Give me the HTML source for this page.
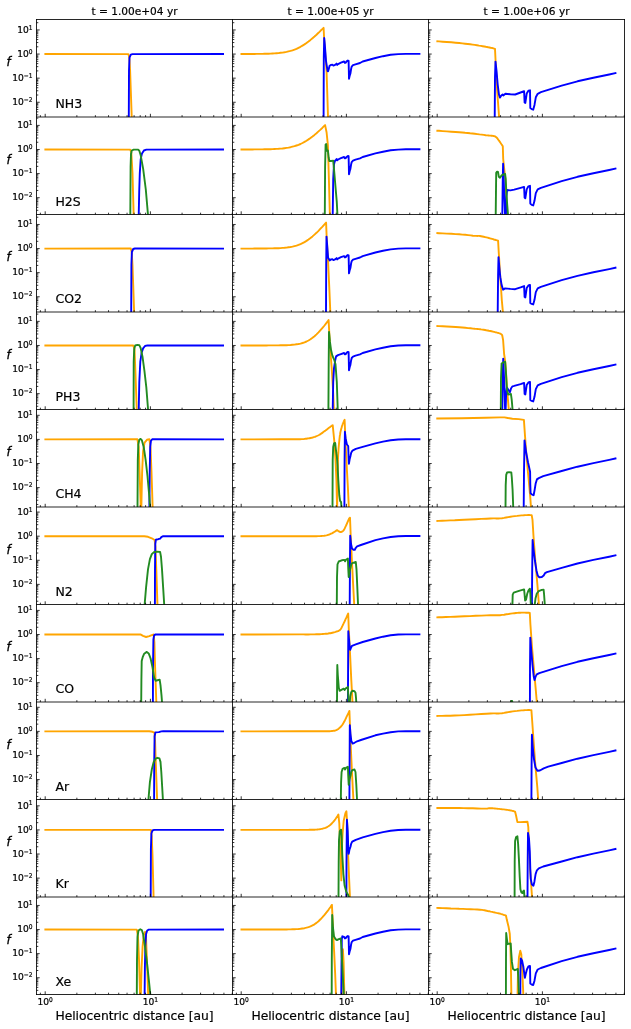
<!DOCTYPE html>
<html><head><meta charset="utf-8"><title>Enrichment profiles</title>
<style>html,body{margin:0;padding:0;background:#fff}svg{display:block}</style></head>
<body>
<svg width="631" height="1029" viewBox="0 0 631 1029" style="display:block">
<rect width="631" height="1029" fill="#fff"/>
<defs>
<clipPath id="c0_0"><rect x="36.50" y="19.50" width="196.00" height="97.50"/></clipPath>
<clipPath id="c0_1"><rect x="232.50" y="19.50" width="196.00" height="97.50"/></clipPath>
<clipPath id="c0_2"><rect x="428.50" y="19.50" width="196.00" height="97.50"/></clipPath>
<clipPath id="c1_0"><rect x="36.50" y="117.00" width="196.00" height="97.50"/></clipPath>
<clipPath id="c1_1"><rect x="232.50" y="117.00" width="196.00" height="97.50"/></clipPath>
<clipPath id="c1_2"><rect x="428.50" y="117.00" width="196.00" height="97.50"/></clipPath>
<clipPath id="c2_0"><rect x="36.50" y="214.50" width="196.00" height="97.50"/></clipPath>
<clipPath id="c2_1"><rect x="232.50" y="214.50" width="196.00" height="97.50"/></clipPath>
<clipPath id="c2_2"><rect x="428.50" y="214.50" width="196.00" height="97.50"/></clipPath>
<clipPath id="c3_0"><rect x="36.50" y="312.00" width="196.00" height="97.50"/></clipPath>
<clipPath id="c3_1"><rect x="232.50" y="312.00" width="196.00" height="97.50"/></clipPath>
<clipPath id="c3_2"><rect x="428.50" y="312.00" width="196.00" height="97.50"/></clipPath>
<clipPath id="c4_0"><rect x="36.50" y="409.50" width="196.00" height="97.50"/></clipPath>
<clipPath id="c4_1"><rect x="232.50" y="409.50" width="196.00" height="97.50"/></clipPath>
<clipPath id="c4_2"><rect x="428.50" y="409.50" width="196.00" height="97.50"/></clipPath>
<clipPath id="c5_0"><rect x="36.50" y="507.00" width="196.00" height="97.50"/></clipPath>
<clipPath id="c5_1"><rect x="232.50" y="507.00" width="196.00" height="97.50"/></clipPath>
<clipPath id="c5_2"><rect x="428.50" y="507.00" width="196.00" height="97.50"/></clipPath>
<clipPath id="c6_0"><rect x="36.50" y="604.50" width="196.00" height="97.50"/></clipPath>
<clipPath id="c6_1"><rect x="232.50" y="604.50" width="196.00" height="97.50"/></clipPath>
<clipPath id="c6_2"><rect x="428.50" y="604.50" width="196.00" height="97.50"/></clipPath>
<clipPath id="c7_0"><rect x="36.50" y="702.00" width="196.00" height="97.50"/></clipPath>
<clipPath id="c7_1"><rect x="232.50" y="702.00" width="196.00" height="97.50"/></clipPath>
<clipPath id="c7_2"><rect x="428.50" y="702.00" width="196.00" height="97.50"/></clipPath>
<clipPath id="c8_0"><rect x="36.50" y="799.50" width="196.00" height="97.50"/></clipPath>
<clipPath id="c8_1"><rect x="232.50" y="799.50" width="196.00" height="97.50"/></clipPath>
<clipPath id="c8_2"><rect x="428.50" y="799.50" width="196.00" height="97.50"/></clipPath>
<clipPath id="c9_0"><rect x="36.50" y="897.00" width="196.00" height="97.50"/></clipPath>
<clipPath id="c9_1"><rect x="232.50" y="897.00" width="196.00" height="97.50"/></clipPath>
<clipPath id="c9_2"><rect x="428.50" y="897.00" width="196.00" height="97.50"/></clipPath>
</defs>
<g clip-path="url(#c0_0)" fill="none" stroke-width="1.9" stroke-linejoin="round" stroke-linecap="butt">
<path d="M44.4,54.0 L128.4,54.1 L129.3,57.7 L130.1,70.3 L130.8,90.6 L131.8,119.2" stroke="#ffa500"/>
<path d="M128.8,119.2 L129.0,70.3 L129.5,57.7 L130.8,54.6 L132.5,54.1 L224.0,54.0" stroke="#0000ff"/>
</g>
<g clip-path="url(#c0_1)" fill="none" stroke-width="1.9" stroke-linejoin="round" stroke-linecap="butt">
<path d="M240.5,54.0 L242.5,54.0 L244.5,54.0 L246.5,54.0 L248.5,54.0 L250.5,54.0 L252.5,54.0 L254.5,54.0 L256.5,53.9 L258.5,53.9 L260.5,53.9 L262.5,53.9 L264.5,53.8 L266.5,53.8 L268.5,53.7 L270.5,53.6 L272.5,53.5 L274.5,53.4 L276.5,53.2 L278.5,53.1 L280.5,52.8 L282.5,52.6 L284.5,52.3 L286.5,51.9 L288.5,51.4 L290.5,50.9 L292.5,50.3 L294.5,49.6 L296.5,48.8 L298.5,47.8 L300.5,46.8 L302.5,45.6 L304.5,44.4 L306.5,43.0 L308.5,41.5 L310.5,39.9 L312.5,38.2 L314.5,36.5 L316.5,34.7 L318.5,32.8 L320.5,30.8 L322.5,28.9 L323.6,27.8 L324.1,38.0 L326.6,72.2 L328.1,119.2" stroke="#ffa500"/>
<path d="M323.6,119.2 L323.8,57.0 L324.2,38.0 L324.8,44.4 L326.0,60.8 L327.6,71.2 L328.1,71.2 L328.9,68.4 L329.6,65.8 L331.1,64.9 L332.4,64.7 L333.4,65.5 L334.6,65.1 L335.9,64.3 L336.6,63.6 L337.2,64.9 L338.1,64.1 L340.9,62.7 L344.1,61.5 L345.0,63.0 L345.7,62.7 L346.6,61.4 L347.9,60.5 L348.6,60.8 L348.8,69.0 L349.0,78.8 L349.8,75.4 L350.4,73.5 L351.1,69.0 L351.7,66.6 L353.0,65.2 L355.5,64.3 L360.0,63.0 L362.7,61.5 L375.4,58.0 L383.0,56.2 L390.6,54.8 L398.2,54.1 L405.8,53.9 L420.4,53.9" stroke="#0000ff"/>
</g>
<g clip-path="url(#c0_2)" fill="none" stroke-width="1.9" stroke-linejoin="round" stroke-linecap="butt">
<path d="M436.4,41.2 L439.0,41.4 L442.6,41.7 L446.8,42.0 L451.3,42.3 L455.6,42.7 L459.2,43.0 L462.3,43.4 L465.1,43.7 L467.8,44.0 L470.2,44.3 L472.6,44.6 L474.8,44.9 L477.0,45.2 L479.0,45.6 L480.9,45.9 L482.6,46.2 L484.3,46.5 L485.8,46.8 L487.1,47.0 L488.3,47.3 L489.4,47.5 L490.3,47.7 L491.2,47.9 L492.0,48.0 L492.7,48.2 L493.3,48.4 L493.9,48.5 L494.3,48.7 L494.7,48.8 L495.0,48.9 L495.5,59.3 L497.1,89.7 L499.3,120.1" stroke="#ffa500"/>
<path d="M494.7,120.1 L495.0,77.0 L495.5,61.6 L496.5,70.7 L497.7,84.6 L499.0,94.8 L500.0,97.6 L501.3,95.4 L502.6,94.4 L503.3,95.5 L505.4,93.8 L510.4,94.3 L515.2,94.5 L520.6,92.5 L524.1,91.2 L524.6,102.4 L525.3,103.0 L526.7,93.5 L528.4,90.7 L530.0,90.3 L530.3,108.1 L531.7,109.1 L533.2,109.7 L534.5,104.9 L535.8,97.3 L537.7,93.8 L540.9,92.2 L561.7,85.7 L577.5,81.3 L593.4,77.8 L609.2,74.5 L616.4,72.9" stroke="#0000ff"/>
</g>
<g clip-path="url(#c1_0)" fill="none" stroke-width="1.9" stroke-linejoin="round" stroke-linecap="butt">
<path d="M44.4,149.5 L130.3,149.6 L131.3,152.8 L132.5,173.1 L133.7,216.2" stroke="#ffa500"/>
<path d="M138.7,216.2 L139.2,192.1 L139.8,173.1 L140.7,159.1 L142.0,153.4 L143.9,150.5 L146.4,149.6 L224.0,149.5" stroke="#0000ff"/>
<path d="M130.3,216.2 L130.6,166.7 L131.0,154.0 L131.8,150.5 L133.7,149.6 L138.2,149.6 L139.4,150.9 L140.7,155.3 L143.2,169.2 L145.8,189.5 L148.1,216.2" stroke="#228b22"/>
</g>
<g clip-path="url(#c1_1)" fill="none" stroke-width="1.9" stroke-linejoin="round" stroke-linecap="butt">
<path d="M240.5,149.5 L242.5,149.5 L244.5,149.5 L246.5,149.5 L248.5,149.5 L250.5,149.5 L252.5,149.5 L254.5,149.4 L256.5,149.4 L258.5,149.4 L260.5,149.4 L262.5,149.4 L264.5,149.3 L266.5,149.3 L268.5,149.2 L270.5,149.2 L272.5,149.1 L274.5,149.0 L276.5,148.9 L278.5,148.8 L280.5,148.6 L282.5,148.5 L284.5,148.2 L286.5,147.9 L288.5,147.6 L290.5,147.2 L292.5,146.7 L294.5,146.2 L296.5,145.5 L298.5,144.8 L300.5,144.0 L302.5,143.0 L304.5,141.9 L306.5,140.7 L308.5,139.4 L310.5,138.0 L312.5,136.5 L314.5,134.9 L316.5,133.2 L318.5,131.4 L320.5,129.6 L322.5,127.7 L324.5,125.7 L325.1,125.1 L326.6,132.5 L327.9,145.2 L328.9,179.4 L329.9,216.2" stroke="#ffa500"/>
<path d="M332.7,216.2 L333.2,179.4 L334.0,164.2 L334.9,161.0 L336.1,159.7 L336.6,159.1 L337.2,160.3 L338.1,159.5 L340.9,158.1 L344.1,157.0 L345.0,158.4 L345.7,158.1 L346.6,156.9 L347.9,155.9 L348.6,156.2 L348.8,164.5 L349.0,174.3 L349.8,170.8 L350.4,168.9 L351.1,164.5 L351.7,162.1 L353.0,160.7 L355.5,159.7 L360.0,158.4 L362.7,157.0 L375.4,153.4 L383.0,151.7 L390.6,150.3 L398.2,149.6 L405.8,149.3 L420.4,149.3" stroke="#0000ff"/>
<path d="M324.8,216.2 L325.1,166.7 L325.6,144.5 L326.2,144.1 L326.9,150.9 L327.9,150.5 L328.7,157.8 L329.4,161.0 L331.1,161.0 L333.2,160.6 L334.0,169.2 L335.5,187.0 L336.8,202.2 L337.5,216.2" stroke="#228b22"/>
</g>
<g clip-path="url(#c1_2)" fill="none" stroke-width="1.9" stroke-linejoin="round" stroke-linecap="butt">
<path d="M436.4,130.7 L439.0,130.8 L442.6,131.1 L446.8,131.4 L451.3,131.7 L455.6,132.0 L459.2,132.2 L462.3,132.5 L465.1,132.8 L467.7,133.0 L470.1,133.3 L472.5,133.5 L474.8,133.8 L477.2,134.1 L479.5,134.4 L481.7,134.6 L483.8,134.9 L485.7,135.2 L487.3,135.4 L488.6,135.5 L489.7,135.6 L490.6,135.6 L491.3,135.7 L492.0,135.8 L492.7,135.9 L493.4,136.0 L494.0,136.1 L494.5,136.2 L495.1,136.4 L495.6,136.7 L496.2,137.2 L496.9,137.8 L497.6,138.7 L498.3,139.7 L499.0,140.7 L499.7,141.6 L500.3,142.5 L500.8,143.2 L501.3,144.0 L501.8,144.7 L502.2,145.4 L502.6,145.9 L502.8,146.3 L503.2,159.0 L504.1,167.8 L505.4,179.2 L507.3,216.0" stroke="#ffa500"/>
<path d="M502.3,216.0 L502.7,183.1 L503.1,163.8 L503.6,176.7 L504.3,195.7 L505.1,216.0 L505.9,216.0 L506.4,197.0 L507.1,190.0 L510.4,190.4 L514.2,189.6 L520.6,187.9 L524.1,186.9 L524.6,197.6 L525.3,198.3 L526.7,189.4 L528.4,186.3 L530.0,185.8 L530.3,203.6 L531.7,204.9 L533.2,205.4 L534.5,200.8 L535.8,193.2 L537.7,189.4 L540.9,187.9 L561.7,181.1 L577.5,176.8 L593.4,173.2 L609.2,170.0 L616.4,168.4" stroke="#0000ff"/>
<path d="M495.7,216.0 L496.0,189.4 L496.2,172.9 L497.1,171.6 L498.0,171.9 L498.8,176.7 L500.0,177.7 L501.6,175.4 L503.5,174.4 L505.1,173.9 L505.7,179.2 L506.6,197.0 L508.1,216.0" stroke="#228b22"/>
</g>
<g clip-path="url(#c2_0)" fill="none" stroke-width="1.9" stroke-linejoin="round" stroke-linecap="butt">
<path d="M44.4,248.6 L130.8,248.5 L131.7,252.0 L132.5,264.7 L133.2,285.0 L134.2,314.2" stroke="#ffa500"/>
<path d="M131.2,314.2 L131.4,264.7 L131.9,252.0 L133.2,249.0 L134.9,248.5 L224.0,248.6" stroke="#0000ff"/>
</g>
<g clip-path="url(#c2_1)" fill="none" stroke-width="1.9" stroke-linejoin="round" stroke-linecap="butt">
<path d="M240.5,248.6 L242.5,248.6 L244.5,248.6 L246.5,248.6 L248.5,248.6 L250.5,248.6 L252.5,248.6 L254.5,248.5 L256.5,248.5 L258.5,248.5 L260.5,248.5 L262.5,248.5 L264.5,248.5 L266.5,248.5 L268.5,248.4 L270.5,248.4 L272.5,248.4 L274.5,248.3 L276.5,248.2 L278.5,248.2 L280.5,248.1 L282.5,247.9 L284.5,247.8 L286.5,247.6 L288.5,247.3 L290.5,247.0 L292.5,246.6 L294.5,246.1 L296.5,245.6 L298.5,244.9 L300.5,244.1 L302.5,243.2 L304.5,242.1 L306.5,240.9 L308.5,239.5 L310.5,238.0 L312.5,236.4 L314.5,234.6 L316.5,232.8 L318.5,230.8 L320.5,228.7 L322.5,226.6 L324.5,224.4 L326.1,222.6 L326.6,235.6 L328.1,262.2 L329.4,290.1 L330.4,314.2" stroke="#ffa500"/>
<path d="M326.0,314.2 L326.2,264.7 L326.5,236.6 L327.3,247.0 L328.1,257.7 L329.2,259.6 L329.6,260.4 L331.1,259.4 L332.4,259.2 L333.4,260.1 L334.6,259.6 L335.9,258.8 L336.6,258.1 L337.2,259.4 L338.1,258.6 L340.9,257.2 L344.1,256.1 L345.0,257.5 L345.7,257.2 L346.6,255.9 L347.9,255.0 L348.6,255.3 L348.8,263.5 L349.0,273.4 L349.8,269.9 L350.4,268.0 L351.1,263.5 L351.7,261.1 L353.0,259.7 L355.5,258.8 L360.0,257.5 L362.7,256.1 L375.4,252.5 L383.0,250.8 L390.6,249.4 L398.2,248.6 L405.8,248.4 L420.4,248.4" stroke="#0000ff"/>
</g>
<g clip-path="url(#c2_2)" fill="none" stroke-width="1.9" stroke-linejoin="round" stroke-linecap="butt">
<path d="M436.4,233.0 L439.0,233.2 L442.6,233.4 L446.8,233.6 L451.3,233.8 L455.6,234.1 L459.2,234.3 L462.4,234.6 L465.3,234.8 L468.1,235.1 L470.7,235.4 L472.9,235.7 L474.8,235.9 L476.3,235.9 L477.2,236.0 L477.9,235.9 L478.5,235.9 L479.1,235.9 L480.0,236.0 L481.1,236.2 L482.4,236.5 L483.7,236.8 L485.1,237.1 L486.4,237.4 L487.6,237.7 L488.8,238.0 L489.9,238.3 L491.0,238.6 L492.0,238.9 L493.0,239.2 L493.9,239.5 L494.8,239.7 L495.7,240.0 L496.4,240.2 L497.1,240.4 L497.7,240.6 L498.1,240.7 L498.8,253.2 L500.3,277.2 L501.8,300.1 L503.1,314.0" stroke="#ffa500"/>
<path d="M497.7,314.0 L498.1,274.7 L498.5,257.2 L499.3,267.1 L500.3,277.2 L501.6,284.9 L503.1,289.7 L505.1,288.4 L510.4,288.9 L515.2,289.2 L520.6,287.4 L524.1,286.1 L524.6,296.9 L525.3,297.5 L526.7,288.0 L528.4,285.4 L530.0,284.9 L530.3,302.9 L531.7,303.9 L533.2,304.4 L534.5,299.8 L535.8,292.2 L537.7,288.4 L540.9,286.9 L561.7,280.2 L577.5,275.9 L593.4,272.3 L609.2,269.1 L616.4,267.5" stroke="#0000ff"/>
</g>
<g clip-path="url(#c3_0)" fill="none" stroke-width="1.9" stroke-linejoin="round" stroke-linecap="butt">
<path d="M44.4,345.5 L133.2,345.4 L134.5,349.0 L135.5,374.4 L136.8,411.2" stroke="#ffa500"/>
<path d="M138.7,411.2 L139.3,382.0 L140.3,361.7 L141.6,352.8 L143.1,348.4 L145.0,346.0 L147.5,345.4 L224.0,345.5" stroke="#0000ff"/>
<path d="M133.6,411.2 L133.7,361.7 L134.2,349.0 L135.2,345.5 L137.4,344.9 L139.3,345.2 L140.6,347.8 L142.5,356.6 L144.4,370.6 L146.3,387.1 L148.2,411.2" stroke="#228b22"/>
</g>
<g clip-path="url(#c3_1)" fill="none" stroke-width="1.9" stroke-linejoin="round" stroke-linecap="butt">
<path d="M240.5,345.5 L242.5,345.5 L244.5,345.5 L246.5,345.5 L248.5,345.5 L250.5,345.5 L252.5,345.5 L254.5,345.5 L256.5,345.5 L258.5,345.5 L260.5,345.5 L262.5,345.5 L264.5,345.5 L266.5,345.5 L268.5,345.4 L270.5,345.4 L272.5,345.4 L274.5,345.4 L276.5,345.4 L278.5,345.4 L280.5,345.3 L282.5,345.3 L284.5,345.3 L286.5,345.2 L288.5,345.1 L290.5,345.0 L292.5,344.8 L294.5,344.6 L296.5,344.3 L298.5,344.0 L300.5,343.6 L302.5,343.0 L304.5,342.3 L306.5,341.5 L308.5,340.5 L310.5,339.3 L312.5,337.8 L314.5,336.2 L316.5,334.4 L318.5,332.4 L320.5,330.2 L322.5,327.9 L324.5,325.5 L326.5,322.9 L328.5,320.3 L328.6,320.1 L329.2,331.3 L330.2,349.0 L331.7,368.1 L333.2,393.4 L334.0,411.2" stroke="#ffa500"/>
<path d="M332.7,411.2 L333.2,382.0 L334.0,368.1 L335.2,360.4 L336.1,356.4 L338.0,355.1 L340.9,354.1 L344.1,353.0 L345.0,354.4 L345.7,354.1 L346.6,352.8 L347.9,351.9 L348.6,352.2 L348.8,360.4 L349.0,370.3 L349.8,366.8 L350.4,364.9 L351.1,360.4 L351.7,358.0 L353.0,356.6 L355.5,355.7 L360.0,354.4 L362.7,353.0 L375.4,349.4 L383.0,347.7 L390.6,346.3 L398.2,345.5 L405.8,345.3 L420.4,345.3" stroke="#0000ff"/>
<path d="M328.4,411.2 L328.7,361.7 L329.0,331.9 L329.9,341.4 L331.1,350.3 L332.3,355.4 L334.2,359.8 L335.5,364.2 L336.8,382.0 L337.8,411.2" stroke="#228b22"/>
</g>
<g clip-path="url(#c3_2)" fill="none" stroke-width="1.9" stroke-linejoin="round" stroke-linecap="butt">
<path d="M436.4,326.0 L439.0,326.1 L442.6,326.3 L446.8,326.5 L451.3,326.7 L455.6,327.0 L459.2,327.2 L462.4,327.5 L465.3,327.8 L468.1,328.1 L470.7,328.3 L472.9,328.6 L474.8,328.8 L476.3,328.9 L477.2,329.0 L477.9,329.0 L478.5,329.1 L479.1,329.1 L480.0,329.2 L481.1,329.4 L482.4,329.6 L483.7,329.8 L485.0,330.0 L486.3,330.3 L487.6,330.5 L488.9,330.8 L490.2,331.0 L491.6,331.3 L492.9,331.6 L494.1,331.9 L495.2,332.2 L496.2,332.4 L497.2,332.7 L498.1,332.9 L498.9,333.2 L499.7,333.4 L500.3,333.7 L500.8,333.9 L501.2,334.2 L501.6,334.5 L501.8,334.8 L502.0,335.0 L502.2,335.2 L503.1,340.0 L504.1,354.0 L505.4,362.8 L507.3,392.0 L508.9,411.0" stroke="#ffa500"/>
<path d="M502.3,411.0 L502.8,378.1 L503.2,358.8 L503.8,371.7 L504.6,390.7 L505.1,411.0 L505.6,411.0 L506.1,394.5 L506.9,387.6 L508.5,390.1 L509.9,392.3 L511.1,388.2 L512.5,386.3 L514.2,385.9 L520.6,384.1 L524.1,382.9 L524.6,393.9 L525.3,394.5 L526.7,385.0 L528.4,382.4 L530.0,381.9 L530.3,399.9 L531.7,400.9 L533.2,401.4 L534.5,396.8 L535.8,389.2 L537.7,385.4 L540.9,383.9 L561.7,377.1 L577.5,372.8 L593.4,369.2 L609.2,366.0 L616.4,364.4" stroke="#0000ff"/>
<path d="M500.8,411.0 L501.0,378.1 L501.6,363.5 L503.5,362.2 L505.1,361.8 L505.9,371.7 L506.9,389.5 L508.1,394.5 L509.8,394.3 L510.9,393.9 L511.7,399.6 L512.7,411.0" stroke="#228b22"/>
</g>
<g clip-path="url(#c4_0)" fill="none" stroke-width="1.9" stroke-linejoin="round" stroke-linecap="butt">
<path d="M44.4,439.4 L137.4,439.3 L138.7,447.0 L139.6,472.4 L140.8,509.2 L141.3,509.2 L142.1,472.4 L143.1,450.8 L144.6,442.6 L146.9,439.8 L149.4,439.3 L150.5,447.0 L151.5,472.4 L152.7,509.2" stroke="#ffa500"/>
<path d="M149.4,509.2 L149.7,472.4 L150.2,447.0 L151.0,440.7 L152.2,439.3 L224.0,439.4" stroke="#0000ff"/>
<path d="M137.5,509.2 L137.8,459.7 L138.3,444.5 L139.3,439.7 L140.6,438.9 L141.8,440.1 L143.7,447.0 L145.6,459.7 L147.5,476.2 L149.2,495.2 L150.2,509.2" stroke="#228b22"/>
</g>
<g clip-path="url(#c4_1)" fill="none" stroke-width="1.9" stroke-linejoin="round" stroke-linecap="butt">
<path d="M240.5,439.4 L281.0,439.3 L283.2,439.3 L286.4,439.3 L290.1,439.3 L293.9,439.2 L297.3,439.2 L300.0,439.2 L301.8,439.1 L303.1,439.1 L304.0,439.0 L304.7,438.9 L305.4,438.8 L306.3,438.7 L307.4,438.5 L308.5,438.4 L309.5,438.2 L310.6,438.0 L311.6,437.8 L312.7,437.5 L313.7,437.2 L314.8,436.9 L315.8,436.5 L316.9,436.0 L318.0,435.5 L319.0,435.0 L320.1,434.4 L321.2,433.6 L322.3,432.9 L323.3,432.1 L324.4,431.3 L325.4,430.6 L326.3,429.9 L327.2,429.2 L328.1,428.5 L329.0,427.8 L329.8,427.2 L330.4,426.7 L331.0,426.3 L331.5,426.0 L331.9,425.8 L332.2,425.5 L332.5,425.4 L332.7,425.2 L333.5,433.1 L334.5,443.2 L335.5,459.7 L336.4,480.0 L337.1,509.2 L337.7,480.0 L337.7,477.7 L337.7,474.5 L337.8,470.7 L337.9,466.8 L337.9,463.0 L338.0,459.7 L338.1,457.0 L338.2,454.5 L338.4,452.2 L338.5,450.0 L338.6,447.9 L338.8,445.8 L339.0,443.7 L339.2,441.6 L339.4,439.7 L339.6,437.8 L339.8,436.0 L340.1,434.4 L340.3,432.8 L340.6,431.4 L340.9,430.1 L341.2,428.9 L341.6,427.8 L341.8,426.7 L342.1,425.8 L342.4,425.0 L342.6,424.2 L342.9,423.5 L343.1,422.9 L343.4,422.3 L343.6,421.8 L343.8,421.2 L344.1,420.8 L344.3,420.4 L344.5,420.0 L344.6,419.8 L345.1,431.8 L345.9,449.6 L346.9,469.9 L347.9,487.6 L348.9,509.2" stroke="#ffa500"/>
<path d="M344.4,509.2 L344.6,459.7 L344.9,431.8 L345.6,438.2 L346.9,444.5 L348.2,446.0 L348.6,457.2 L348.9,463.8 L349.7,459.1 L350.5,455.9 L351.2,452.7 L352.5,450.6 L355.8,448.9 L362.7,446.9 L375.4,443.4 L383.0,441.6 L390.6,440.2 L398.2,439.5 L405.8,439.3 L420.4,439.3" stroke="#0000ff"/>
<path d="M332.5,509.2 L332.7,459.7 L333.2,447.0 L334.0,443.5 L335.2,443.0 L335.9,449.6 L336.8,455.9 L337.5,464.8 L338.3,480.0 L339.3,495.2 L340.1,500.9 L341.1,502.2 L341.6,509.2" stroke="#228b22"/>
</g>
<g clip-path="url(#c4_2)" fill="none" stroke-width="1.9" stroke-linejoin="round" stroke-linecap="butt">
<path d="M436.3,418.5 L461.7,418.2 L485.5,417.7 L500.0,417.4 L504.5,417.4 L507.7,418.0 L512.4,418.8 L518.7,419.1 L523.9,419.9 L524.9,434.4 L526.8,459.7 L528.7,480.0 L530.3,497.7 L531.1,509.2" stroke="#ffa500"/>
<path d="M523.7,509.2 L524.0,472.4 L524.5,440.4 L526.1,452.1 L528.0,462.2 L530.1,471.8 L530.3,485.1 L530.6,493.3 L532.1,494.6 L533.6,495.2 L534.6,490.1 L535.6,483.8 L536.9,479.4 L538.8,478.1 L543.2,476.2 L561.7,471.0 L577.5,466.7 L593.4,463.1 L609.2,459.9 L616.4,458.3" stroke="#0000ff"/>
<path d="M505.5,509.2 L505.7,485.1 L506.2,474.9 L507.1,472.4 L509.0,472.1 L511.3,472.4 L511.8,477.5 L512.6,490.1 L513.3,509.2" stroke="#228b22"/>
</g>
<g clip-path="url(#c5_0)" fill="none" stroke-width="1.9" stroke-linejoin="round" stroke-linecap="butt">
<path d="M44.4,536.2 L144.2,536.2 L148.0,536.8 L151.8,538.3 L154.6,540.0 L155.4,546.6 L156.3,569.4 L157.5,606.2" stroke="#ffa500"/>
<path d="M154.9,606.2 L155.0,569.4 L155.3,544.0 L155.9,539.6 L158.2,539.2 L160.1,538.7 L161.3,537.1 L163.2,536.2 L224.0,536.2" stroke="#0000ff"/>
<path d="M144.5,606.2 L146.1,587.1 L148.0,569.4 L149.9,559.2 L151.8,554.2 L153.7,552.3 L156.9,551.6 L160.1,551.9 L161.0,556.7 L162.0,569.4 L163.2,588.4 L164.3,606.2" stroke="#228b22"/>
</g>
<g clip-path="url(#c5_1)" fill="none" stroke-width="1.9" stroke-linejoin="round" stroke-linecap="butt">
<path d="M240.5,536.2 L300.0,536.2 L301.4,536.2 L303.4,536.2 L305.7,536.2 L308.2,536.2 L310.6,536.2 L312.7,536.2 L314.6,536.2 L316.4,536.2 L318.1,536.1 L319.8,536.1 L321.4,536.0 L322.8,535.9 L324.1,535.8 L325.3,535.6 L326.3,535.4 L327.3,535.1 L328.2,534.8 L329.2,534.5 L330.1,534.2 L331.0,533.7 L331.9,533.3 L332.8,532.8 L333.5,532.4 L334.2,532.0 L334.9,531.6 L335.4,531.2 L335.9,530.9 L336.4,530.6 L336.7,530.3 L337.0,530.1 L337.0,530.1 L337.3,530.3 L337.6,530.5 L338.0,530.8 L338.5,531.1 L338.9,531.4 L339.3,531.6 L339.6,531.8 L339.9,531.9 L340.2,532.0 L340.5,532.1 L340.9,532.1 L341.2,532.0 L341.6,531.8 L342.0,531.6 L342.4,531.4 L342.9,531.0 L343.3,530.6 L343.7,530.1 L344.2,529.4 L344.6,528.7 L345.0,527.8 L345.4,526.9 L345.9,525.9 L346.3,525.0 L346.7,524.1 L347.2,523.0 L347.6,522.0 L348.1,520.9 L348.5,520.0 L348.8,519.3 L349.1,518.8 L349.3,518.4 L349.5,518.1 L349.7,517.9 L349.8,517.8 L350.0,517.7 L350.7,535.2 L351.7,556.7 L353.0,582.1 L354.3,606.2" stroke="#ffa500"/>
<path d="M349.7,606.2 L350.0,556.7 L350.2,535.8 L351.0,544.0 L352.0,548.5 L353.2,549.7 L354.8,549.7 L355.8,547.8 L357.1,546.3 L360.9,545.0 L375.4,540.1 L383.0,538.4 L390.6,537.0 L398.2,536.2 L405.8,536.0 L420.4,536.0" stroke="#0000ff"/>
<path d="M336.8,606.2 L337.0,577.0 L337.5,564.3 L338.7,561.5 L341.8,560.3 L344.4,559.9 L345.1,561.3 L345.9,559.8 L347.9,558.6 L348.3,569.4 L348.7,577.0 L349.4,571.9 L350.5,568.1 L351.2,564.3 L352.2,563.1 L355.8,562.0 L356.5,569.4 L357.3,587.1 L358.1,606.2" stroke="#228b22"/>
</g>
<g clip-path="url(#c5_2)" fill="none" stroke-width="1.9" stroke-linejoin="round" stroke-linecap="butt">
<path d="M436.4,521.0 L438.8,520.9 L442.0,520.8 L445.9,520.6 L450.2,520.4 L454.7,520.3 L459.2,520.0 L464.2,519.8 L469.8,519.5 L475.7,519.2 L481.3,518.9 L486.4,518.7 L490.4,518.5 L493.3,518.4 L495.1,518.4 L496.4,518.5 L497.4,518.5 L498.5,518.5 L500.0,518.4 L501.9,518.2 L504.0,517.9 L506.1,517.5 L508.3,517.1 L510.5,516.7 L512.7,516.4 L514.9,516.1 L517.1,515.9 L519.4,515.6 L521.6,515.4 L523.6,515.3 L525.4,515.1 L526.9,515.1 L528.2,515.0 L529.3,515.0 L530.3,515.1 L531.1,515.1 L531.7,515.1 L532.5,519.9 L533.6,537.7 L535.5,563.1 L537.4,584.6 L539.0,606.2" stroke="#ffa500"/>
<path d="M531.9,606.2 L532.2,569.4 L532.6,540.0 L533.5,549.1 L534.9,560.5 L536.5,570.7 L537.8,575.7 L539.3,577.3 L541.8,577.0 L543.7,575.5 L545.0,573.2 L546.9,572.2 L561.7,567.8 L577.5,563.5 L593.4,559.9 L609.2,556.7 L616.4,555.1" stroke="#0000ff"/>
<path d="M512.4,606.2 L512.7,594.7 L513.7,592.7 L519.0,590.9 L524.1,589.4 L524.6,594.7 L525.1,600.5 L526.0,599.8 L527.3,593.5 L528.5,590.3 L529.9,588.7 L530.4,594.7 L530.9,606.2" stroke="#228b22"/>
<path d="M534.5,606.2 L535.5,598.6 L536.8,593.5 L538.7,591.2 L541.8,589.9 L543.6,589.7 L544.1,594.7 L544.9,606.2" stroke="#228b22"/>
</g>
<g clip-path="url(#c6_0)" fill="none" stroke-width="1.9" stroke-linejoin="round" stroke-linecap="butt">
<path d="M44.4,634.5 L140.4,634.4 L143.0,635.9 L146.1,637.0 L149.3,636.2 L152.5,634.8 L153.7,634.4 L154.4,642.0 L155.1,667.4 L156.4,704.2" stroke="#ffa500"/>
<path d="M152.9,704.2 L153.0,667.4 L153.4,639.5 L154.1,635.4 L155.6,634.4 L224.0,634.5" stroke="#0000ff"/>
<path d="M141.2,704.2 L141.4,680.1 L141.7,661.1 L142.7,657.2 L144.2,653.7 L146.8,651.9 L148.7,653.4 L150.6,658.5 L152.5,667.4 L154.1,677.5 L155.6,680.7 L157.5,680.3 L159.7,679.8 L160.5,685.1 L161.5,695.3 L162.2,704.2" stroke="#228b22"/>
</g>
<g clip-path="url(#c6_1)" fill="none" stroke-width="1.9" stroke-linejoin="round" stroke-linecap="butt">
<path d="M240.5,634.5 L300.0,634.4 L301.4,634.4 L303.4,634.4 L305.7,634.5 L308.2,634.5 L310.6,634.4 L312.7,634.4 L314.5,634.4 L316.3,634.3 L318.1,634.3 L319.7,634.2 L321.3,634.1 L322.8,634.0 L324.3,633.9 L325.6,633.8 L326.9,633.7 L328.2,633.5 L329.3,633.3 L330.4,633.2 L331.4,633.0 L332.4,632.8 L333.2,632.5 L334.0,632.3 L334.8,632.1 L335.5,631.9 L336.1,631.7 L336.7,631.5 L337.3,631.4 L337.8,631.2 L338.2,631.0 L338.7,630.8 L339.1,630.5 L339.5,630.3 L339.8,630.1 L340.1,629.8 L340.5,629.4 L340.8,629.0 L341.2,628.4 L341.6,627.7 L341.9,627.0 L342.3,626.2 L342.7,625.4 L343.1,624.5 L343.5,623.7 L343.9,622.8 L344.4,622.0 L344.8,621.0 L345.2,620.1 L345.6,619.2 L346.1,618.2 L346.6,617.1 L347.1,616.0 L347.5,615.0 L347.9,614.1 L348.2,613.5 L348.8,629.4 L350.1,654.7 L351.3,680.1 L352.6,704.2" stroke="#ffa500"/>
<path d="M347.9,704.2 L348.1,667.4 L348.3,631.3 L348.9,638.2 L349.7,647.1 L350.2,649.9 L351.0,647.7 L352.0,645.8 L355.8,644.3 L362.7,642.0 L375.4,638.5 L383.0,636.7 L390.6,635.3 L398.2,634.5 L405.8,634.4 L420.4,634.4" stroke="#0000ff"/>
<path d="M337.0,704.2 L337.1,680.1 L337.3,664.9 L337.8,675.0 L338.8,687.7 L339.6,690.8 L341.8,689.6 L343.7,688.7 L344.6,690.0 L345.4,688.7 L347.2,687.7 L347.9,687.0 L348.3,695.3 L348.7,704.2" stroke="#228b22"/>
<path d="M349.7,704.2 L350.2,696.6 L351.2,692.1 L352.6,690.8 L354.5,691.2 L355.5,692.7 L356.0,697.8 L356.4,704.2" stroke="#228b22"/>
</g>
<g clip-path="url(#c6_2)" fill="none" stroke-width="1.9" stroke-linejoin="round" stroke-linecap="butt">
<path d="M436.4,617.4 L438.8,617.3 L442.0,617.2 L445.9,617.0 L450.2,616.9 L454.7,616.7 L459.2,616.5 L464.2,616.3 L469.8,616.1 L475.7,615.8 L481.3,615.6 L486.4,615.4 L490.4,615.2 L493.3,615.2 L495.1,615.2 L496.4,615.2 L497.4,615.3 L498.5,615.3 L500.0,615.2 L502.0,614.9 L504.1,614.7 L506.4,614.3 L508.6,614.0 L510.7,613.6 L512.7,613.4 L514.4,613.2 L515.9,613.0 L517.4,612.9 L518.8,612.8 L520.2,612.7 L521.6,612.6 L523.1,612.6 L524.7,612.6 L526.2,612.7 L527.7,612.8 L528.9,612.8 L529.8,612.9 L530.4,624.3 L531.9,645.8 L534.0,669.9 L535.8,690.2 L537.0,704.2" stroke="#ffa500"/>
<path d="M529.9,704.2 L530.0,667.4 L530.3,637.6 L531.2,649.6 L532.5,664.9 L533.7,676.3 L534.5,680.1 L535.5,676.9 L536.8,674.4 L539.3,673.1 L561.7,666.1 L577.5,661.8 L593.4,658.2 L609.2,655.0 L616.4,653.4" stroke="#0000ff"/>
<path d="M511.2,704.2 L511.4,701.0 L512.2,701.0 L512.4,704.2" stroke="#228b22"/>
</g>
<g clip-path="url(#c7_0)" fill="none" stroke-width="1.9" stroke-linejoin="round" stroke-linecap="butt">
<path d="M44.4,731.4 L149.3,731.3 L152.5,731.8 L154.4,732.7 L155.1,741.6 L156.1,772.0 L157.2,801.2" stroke="#ffa500"/>
<path d="M154.1,801.2 L154.2,764.4 L154.6,736.5 L155.4,732.4 L158.8,732.1 L161.3,731.4 L163.2,731.3 L224.0,731.4" stroke="#0000ff"/>
<path d="M148.3,801.2 L149.9,782.1 L151.8,769.5 L153.7,761.9 L155.6,758.7 L157.5,757.8 L159.4,758.3 L160.5,761.9 L161.3,772.0 L162.2,787.2 L163.0,801.2" stroke="#228b22"/>
</g>
<g clip-path="url(#c7_1)" fill="none" stroke-width="1.9" stroke-linejoin="round" stroke-linecap="butt">
<path d="M240.5,731.4 L300.0,731.3 L301.4,731.3 L303.3,731.3 L305.5,731.3 L308.0,731.3 L310.4,731.3 L312.7,731.3 L314.9,731.3 L317.1,731.3 L319.3,731.3 L321.5,731.3 L323.5,731.3 L325.4,731.3 L327.0,731.3 L328.4,731.2 L329.7,731.2 L330.9,731.1 L332.0,731.0 L333.0,730.9 L333.8,730.8 L334.5,730.7 L335.1,730.6 L335.6,730.4 L336.2,730.2 L336.8,729.9 L337.4,729.5 L338.1,729.1 L338.7,728.7 L339.3,728.1 L340.0,727.6 L340.6,727.0 L341.1,726.4 L341.7,725.7 L342.2,725.0 L342.7,724.2 L343.2,723.4 L343.7,722.6 L344.3,721.6 L344.8,720.5 L345.4,719.4 L345.9,718.3 L346.4,717.2 L346.9,716.2 L347.4,715.2 L347.9,714.2 L348.4,713.2 L348.8,712.2 L349.2,711.5 L349.4,710.9 L350.0,726.4 L351.0,751.7 L352.2,777.1 L353.5,801.2" stroke="#ffa500"/>
<path d="M349.4,801.2 L349.6,764.4 L349.8,725.1 L350.5,734.0 L351.3,740.9 L352.6,743.5 L354.5,742.8 L357.1,741.3 L360.9,740.0 L375.4,735.3 L383.0,733.6 L390.6,732.2 L398.2,731.4 L405.8,731.2 L420.4,731.2" stroke="#0000ff"/>
<path d="M340.8,801.2 L341.1,782.1 L341.6,772.0 L342.6,768.8 L344.4,767.9 L345.1,769.5 L345.9,767.9 L347.9,766.7 L348.3,777.1 L348.7,784.7 L349.4,779.6 L350.5,775.8 L351.2,772.0 L352.2,770.1 L354.5,769.5 L355.5,772.0 L356.3,784.7 L357.1,801.2" stroke="#228b22"/>
</g>
<g clip-path="url(#c7_2)" fill="none" stroke-width="1.9" stroke-linejoin="round" stroke-linecap="butt">
<path d="M436.4,716.0 L438.8,715.9 L442.0,715.9 L445.9,715.8 L450.2,715.7 L454.7,715.5 L459.2,715.4 L464.2,715.1 L469.8,714.8 L475.7,714.4 L481.3,714.0 L486.4,713.7 L490.4,713.5 L493.3,713.4 L495.1,713.4 L496.4,713.5 L497.4,713.5 L498.5,713.5 L500.0,713.4 L501.9,713.2 L504.0,712.9 L506.1,712.5 L508.3,712.1 L510.5,711.7 L512.7,711.4 L514.9,711.1 L517.1,710.9 L519.4,710.6 L521.6,710.4 L523.6,710.3 L525.4,710.1 L526.8,710.1 L528.1,710.0 L529.2,710.0 L530.1,710.1 L530.9,710.1 L531.4,710.1 L532.2,721.3 L533.7,742.8 L535.5,766.9 L537.3,787.2 L538.3,801.2" stroke="#ffa500"/>
<path d="M531.4,801.2 L531.6,764.4 L531.9,734.6 L532.7,746.6 L534.0,759.3 L535.5,767.6 L537.4,770.7 L539.9,770.5 L543.7,768.4 L548.2,766.7 L561.7,763.0 L577.5,758.7 L593.4,755.1 L609.2,751.9 L616.4,750.3" stroke="#0000ff"/>
</g>
<g clip-path="url(#c8_0)" fill="none" stroke-width="1.9" stroke-linejoin="round" stroke-linecap="butt">
<path d="M44.4,829.9 L150.9,829.9 L151.7,836.0 L152.5,855.1 L153.0,874.1 L153.6,898.2" stroke="#ffa500"/>
<path d="M150.7,898.2 L150.9,848.7 L151.4,833.5 L152.5,830.5 L154.2,829.9 L224.0,829.9" stroke="#0000ff"/>
</g>
<g clip-path="url(#c8_1)" fill="none" stroke-width="1.9" stroke-linejoin="round" stroke-linecap="butt">
<path d="M240.5,829.9 L241.5,829.9 L242.5,829.9 L243.5,829.9 L244.5,829.9 L245.5,829.9 L246.5,829.9 L247.5,829.9 L248.5,829.9 L249.5,829.9 L250.5,829.9 L251.5,829.9 L252.5,829.9 L253.5,829.9 L254.5,829.9 L255.5,829.9 L256.5,829.9 L257.5,829.9 L258.5,829.9 L259.5,829.9 L260.5,829.9 L261.5,829.9 L262.5,829.9 L263.5,829.9 L264.5,829.9 L265.5,829.9 L266.5,829.9 L267.5,829.9 L268.5,829.9 L269.5,829.9 L270.5,829.9 L271.5,829.9 L272.5,829.9 L273.5,829.9 L274.5,829.9 L275.5,829.9 L276.5,829.9 L277.5,829.9 L278.5,829.9 L279.5,829.9 L280.5,829.9 L281.5,829.9 L282.5,829.9 L283.5,829.9 L284.5,829.9 L285.5,829.9 L286.5,829.9 L287.5,829.9 L288.5,829.9 L289.5,829.9 L290.5,829.9 L291.5,829.9 L292.5,829.9 L293.5,829.9 L294.5,829.9 L295.5,829.9 L296.5,829.9 L297.5,829.9 L298.5,829.9 L299.5,829.9 L300.5,829.9 L301.5,829.9 L302.5,829.9 L303.5,829.9 L304.5,829.9 L305.5,829.9 L306.5,829.9 L307.5,829.9 L308.5,829.9 L309.5,829.8 L310.5,829.8 L311.5,829.8 L312.5,829.8 L313.5,829.7 L314.5,829.7 L315.5,829.6 L316.5,829.6 L317.5,829.5 L318.5,829.4 L319.5,829.3 L320.5,829.1 L321.5,828.9 L322.5,828.7 L323.5,828.4 L324.5,828.1 L325.5,827.8 L326.5,827.3 L327.5,826.8 L328.5,826.2 L329.5,825.5 L330.5,824.7 L331.5,823.8 L332.5,822.7 L333.5,821.6 L334.5,820.4 L335.5,819.0 L336.5,817.5 L337.5,816.0 L338.4,814.5 L339.3,823.4 L340.3,848.7 L341.0,869.0 L341.3,880.4 L341.8,848.7 L342.6,833.5 L343.7,820.8 L345.4,813.2 L346.4,811.3 L347.2,823.4 L347.9,848.7 L348.9,874.1 L350.0,898.2" stroke="#ffa500"/>
<path d="M346.4,898.2 L346.5,861.4 L346.9,819.6 L347.7,831.0 L348.2,846.2 L348.7,853.8 L349.4,850.0 L350.5,846.8 L351.2,843.6 L352.2,841.7 L355.8,839.8 L362.7,837.4 L375.4,833.9 L383.0,832.1 L390.6,830.7 L398.2,830.0 L405.8,829.8 L420.4,829.8" stroke="#0000ff"/>
<path d="M338.5,898.2 L338.7,861.4 L339.0,839.8 L339.8,831.2 L341.1,829.7 L341.6,836.0 L342.3,855.1 L343.4,874.1 L344.6,885.5 L346.3,891.8 L347.9,894.4 L349.4,898.2" stroke="#228b22"/>
</g>
<g clip-path="url(#c8_2)" fill="none" stroke-width="1.9" stroke-linejoin="round" stroke-linecap="butt">
<path d="M436.4,808.0 L438.9,808.0 L442.3,808.0 L446.3,808.0 L450.6,807.9 L455.0,808.0 L459.2,808.0 L463.5,808.1 L468.1,808.2 L472.8,808.3 L477.2,808.5 L481.1,808.6 L484.2,808.6 L486.3,808.6 L487.5,808.5 L488.2,808.4 L488.6,808.3 L489.2,808.2 L490.0,808.1 L491.1,808.2 L492.4,808.3 L493.6,808.4 L494.9,808.5 L496.2,808.6 L497.6,808.8 L499.1,808.9 L500.6,809.1 L502.2,809.3 L503.8,809.4 L505.2,809.6 L506.5,809.8 L507.6,809.9 L508.5,810.1 L509.4,810.2 L510.1,810.4 L510.8,810.5 L511.6,810.7 L512.3,810.9 L513.0,811.0 L513.6,811.2 L514.2,811.4 L514.7,811.6 L515.1,811.7 L516.1,815.7 L517.4,822.1 L520.4,822.1 L527.5,821.8 L528.3,827.2 L529.0,848.7 L530.1,869.0 L531.3,886.7 L532.1,898.2" stroke="#ffa500"/>
<path d="M527.5,898.2 L527.7,861.4 L528.0,832.9 L529.0,838.6 L529.8,851.2 L530.3,869.0 L530.8,879.1 L531.8,884.2 L533.4,885.7 L534.4,881.7 L535.6,874.1 L536.9,870.3 L538.8,868.4 L543.2,866.5 L561.7,861.5 L577.5,857.2 L593.4,853.6 L609.2,850.4 L616.4,848.8" stroke="#0000ff"/>
<path d="M514.6,898.2 L514.7,861.4 L515.1,841.1 L516.1,837.0 L517.4,836.3 L518.1,843.6 L518.9,858.9 L519.7,876.6 L520.4,889.3 L521.4,892.5 L522.5,893.1 L523.2,891.2 L524.0,890.6 L524.5,898.2" stroke="#228b22"/>
</g>
<g clip-path="url(#c9_0)" fill="none" stroke-width="1.9" stroke-linejoin="round" stroke-linecap="butt">
<path d="M44.4,929.5 L136.8,929.6 L138.0,936.6 L139.0,959.4 L140.1,996.2 L140.8,996.2 L141.6,967.0 L142.6,946.7 L143.7,935.3 L145.1,931.8 L145.9,934.0 L146.4,946.7 L147.4,972.1 L148.2,996.2" stroke="#ffa500"/>
<path d="M144.6,996.2 L144.9,967.0 L145.4,944.2 L146.1,934.0 L147.2,930.5 L148.8,929.6 L224.0,929.5" stroke="#0000ff"/>
<path d="M136.8,996.2 L137.0,959.4 L137.5,936.6 L138.5,930.5 L140.3,929.3 L141.8,930.0 L143.1,934.0 L145.0,946.7 L146.9,961.9 L148.8,979.7 L150.5,996.2" stroke="#228b22"/>
</g>
<g clip-path="url(#c9_1)" fill="none" stroke-width="1.9" stroke-linejoin="round" stroke-linecap="butt">
<path d="M240.5,929.5 L242.5,929.5 L244.5,929.5 L246.5,929.5 L248.5,929.5 L250.5,929.5 L252.5,929.5 L254.5,929.5 L256.5,929.5 L258.5,929.5 L260.5,929.5 L262.5,929.5 L264.5,929.5 L266.5,929.5 L268.5,929.5 L270.5,929.5 L272.5,929.5 L274.5,929.5 L276.5,929.5 L278.5,929.5 L280.5,929.5 L282.5,929.5 L284.5,929.5 L286.5,929.5 L288.5,929.4 L290.5,929.4 L292.5,929.3 L294.5,929.2 L296.5,929.1 L298.5,929.0 L300.5,928.8 L302.5,928.5 L304.5,928.2 L306.5,927.7 L308.5,927.1 L310.5,926.4 L312.5,925.4 L314.5,924.3 L316.5,922.9 L318.5,921.2 L320.5,919.3 L322.5,917.2 L324.5,914.9 L326.5,912.4 L328.5,909.8 L330.5,907.0 L331.9,904.9 L332.5,916.3 L333.2,934.0 L334.2,953.1 L335.2,974.6 L336.0,996.2" stroke="#ffa500"/>
<path d="M341.6,996.2 L342.1,961.9 L342.9,949.2 L343.6,961.9 L344.4,996.2" stroke="#ffa500"/>
<path d="M341.3,996.2 L341.5,967.0 L341.8,939.1 L342.3,936.3 L344.1,937.0 L345.0,938.5 L345.7,938.2 L346.6,936.9 L347.9,936.0 L348.6,936.3 L348.8,944.5 L349.0,954.3 L349.8,950.9 L350.4,949.0 L351.1,944.5 L351.7,942.1 L353.0,940.7 L355.5,939.8 L360.0,938.5 L362.7,937.0 L375.4,933.5 L383.0,931.8 L390.6,930.3 L398.2,929.6 L405.8,929.4 L420.4,929.4" stroke="#0000ff"/>
<path d="M331.7,996.2 L331.8,959.4 L332.2,915.0 L333.0,927.7 L334.0,936.6 L335.5,939.1 L337.0,940.1 L338.7,939.1 L340.8,938.5 L341.3,946.7 L342.1,961.9 L343.1,982.2 L343.9,996.2" stroke="#228b22"/>
</g>
<g clip-path="url(#c9_2)" fill="none" stroke-width="1.9" stroke-linejoin="round" stroke-linecap="butt">
<path d="M436.4,907.9 L438.9,908.0 L442.4,908.1 L446.5,908.3 L450.9,908.5 L455.3,908.6 L459.2,908.8 L463.0,908.9 L466.8,909.1 L470.6,909.2 L474.1,909.4 L477.3,909.5 L480.0,909.7 L482.0,909.9 L483.5,910.1 L484.5,910.3 L485.5,910.5 L486.4,910.7 L487.6,911.0 L489.1,911.2 L490.6,911.6 L492.2,911.9 L493.8,912.3 L495.2,912.6 L496.5,912.9 L497.6,913.1 L498.5,913.3 L499.3,913.5 L500.1,913.7 L500.8,913.9 L501.6,914.1 L502.4,914.4 L503.2,914.7 L504.1,915.0 L504.9,915.2 L505.5,915.5 L506.0,915.7 L506.9,920.1 L508.5,926.4 L509.8,934.0 L510.4,946.7 L510.9,967.0 L511.4,996.2" stroke="#ffa500"/>
<path d="M517.5,996.2 L518.0,972.1 L519.0,956.9 L520.3,950.8 L521.3,954.3 L522.1,967.0 L522.9,984.7 L523.4,996.2" stroke="#ffa500"/>
<path d="M520.3,996.2 L520.4,972.1 L520.8,958.4 L522.1,960.7 L523.4,967.0 L524.4,974.6 L524.9,977.8 L525.6,974.6 L526.9,969.5 L528.4,966.5 L530.0,966.0 L530.3,983.5 L531.7,984.5 L533.2,985.0 L534.5,980.7 L535.8,973.3 L537.7,969.5 L540.9,968.0 L561.7,961.1 L577.5,956.8 L593.4,953.2 L609.2,950.0 L616.4,948.4" stroke="#0000ff"/>
<path d="M505.9,996.2 L506.0,959.4 L506.2,933.0 L506.9,939.1 L507.6,944.2 L509.2,943.7 L510.7,943.4 L511.2,951.8 L511.9,961.9 L513.0,968.9 L514.9,970.2 L516.8,969.3 L517.8,968.9 L518.3,977.1 L519.0,996.2" stroke="#228b22"/>
</g>
<path d="M36.50,114.85h1.8M36.50,111.84h1.8M36.50,109.50h1.8M36.50,107.60h1.8M36.50,105.98h1.8M36.50,104.59h1.8M36.50,103.35h1.8M36.50,102.25h3.2M36.50,95.00h1.8M36.50,90.75h1.8M36.50,87.74h1.8M36.50,85.40h1.8M36.50,83.50h1.8M36.50,81.88h1.8M36.50,80.49h1.8M36.50,79.25h1.8M36.50,78.15h3.2M36.50,70.90h1.8M36.50,66.65h1.8M36.50,63.64h1.8M36.50,61.30h1.8M36.50,59.40h1.8M36.50,57.78h1.8M36.50,56.39h1.8M36.50,55.15h1.8M36.50,54.05h3.2M36.50,46.80h1.8M36.50,42.55h1.8M36.50,39.54h1.8M36.50,37.20h1.8M36.50,35.30h1.8M36.50,33.68h1.8M36.50,32.29h1.8M36.50,31.05h1.8M36.50,29.95h3.2M36.50,22.70h1.8M40.39,117.00v-1.8M45.20,117.00v-3.2M76.87,117.00v-1.8M95.39,117.00v-1.8M108.54,117.00v-1.8M118.73,117.00v-1.8M127.06,117.00v-1.8M134.10,117.00v-1.8M140.21,117.00v-1.8M145.59,117.00v-1.8M150.40,117.00v-3.2M182.07,117.00v-1.8M200.59,117.00v-1.8M213.74,117.00v-1.8M223.93,117.00v-1.8M232.26,117.00v-1.8M232.50,114.85h1.8M232.50,111.84h1.8M232.50,109.50h1.8M232.50,107.60h1.8M232.50,105.98h1.8M232.50,104.59h1.8M232.50,103.35h1.8M232.50,102.25h3.2M232.50,95.00h1.8M232.50,90.75h1.8M232.50,87.74h1.8M232.50,85.40h1.8M232.50,83.50h1.8M232.50,81.88h1.8M232.50,80.49h1.8M232.50,79.25h1.8M232.50,78.15h3.2M232.50,70.90h1.8M232.50,66.65h1.8M232.50,63.64h1.8M232.50,61.30h1.8M232.50,59.40h1.8M232.50,57.78h1.8M232.50,56.39h1.8M232.50,55.15h1.8M232.50,54.05h3.2M232.50,46.80h1.8M232.50,42.55h1.8M232.50,39.54h1.8M232.50,37.20h1.8M232.50,35.30h1.8M232.50,33.68h1.8M232.50,32.29h1.8M232.50,31.05h1.8M232.50,29.95h3.2M232.50,22.70h1.8M236.39,117.00v-1.8M241.20,117.00v-3.2M272.87,117.00v-1.8M291.39,117.00v-1.8M304.54,117.00v-1.8M314.73,117.00v-1.8M323.06,117.00v-1.8M330.10,117.00v-1.8M336.21,117.00v-1.8M341.59,117.00v-1.8M346.40,117.00v-3.2M378.07,117.00v-1.8M396.59,117.00v-1.8M409.74,117.00v-1.8M419.93,117.00v-1.8M428.26,117.00v-1.8M428.50,114.85h1.8M428.50,111.84h1.8M428.50,109.50h1.8M428.50,107.60h1.8M428.50,105.98h1.8M428.50,104.59h1.8M428.50,103.35h1.8M428.50,102.25h3.2M428.50,95.00h1.8M428.50,90.75h1.8M428.50,87.74h1.8M428.50,85.40h1.8M428.50,83.50h1.8M428.50,81.88h1.8M428.50,80.49h1.8M428.50,79.25h1.8M428.50,78.15h3.2M428.50,70.90h1.8M428.50,66.65h1.8M428.50,63.64h1.8M428.50,61.30h1.8M428.50,59.40h1.8M428.50,57.78h1.8M428.50,56.39h1.8M428.50,55.15h1.8M428.50,54.05h3.2M428.50,46.80h1.8M428.50,42.55h1.8M428.50,39.54h1.8M428.50,37.20h1.8M428.50,35.30h1.8M428.50,33.68h1.8M428.50,32.29h1.8M428.50,31.05h1.8M428.50,29.95h3.2M428.50,22.70h1.8M432.39,117.00v-1.8M437.20,117.00v-3.2M468.87,117.00v-1.8M487.39,117.00v-1.8M500.54,117.00v-1.8M510.73,117.00v-1.8M519.06,117.00v-1.8M526.10,117.00v-1.8M532.21,117.00v-1.8M537.59,117.00v-1.8M542.40,117.00v-3.2M574.07,117.00v-1.8M592.59,117.00v-1.8M605.74,117.00v-1.8M615.93,117.00v-1.8M624.26,117.00v-1.8M36.50,210.30h1.8M36.50,207.29h1.8M36.50,204.95h1.8M36.50,203.05h1.8M36.50,201.43h1.8M36.50,200.04h1.8M36.50,198.80h1.8M36.50,197.70h3.2M36.50,190.45h1.8M36.50,186.20h1.8M36.50,183.19h1.8M36.50,180.85h1.8M36.50,178.95h1.8M36.50,177.33h1.8M36.50,175.94h1.8M36.50,174.70h1.8M36.50,173.60h3.2M36.50,166.35h1.8M36.50,162.10h1.8M36.50,159.09h1.8M36.50,156.75h1.8M36.50,154.85h1.8M36.50,153.23h1.8M36.50,151.84h1.8M36.50,150.60h1.8M36.50,149.50h3.2M36.50,142.25h1.8M36.50,138.00h1.8M36.50,134.99h1.8M36.50,132.65h1.8M36.50,130.75h1.8M36.50,129.13h1.8M36.50,127.74h1.8M36.50,126.50h1.8M36.50,125.40h3.2M36.50,118.15h1.8M40.39,214.50v-1.8M45.20,214.50v-3.2M76.87,214.50v-1.8M95.39,214.50v-1.8M108.54,214.50v-1.8M118.73,214.50v-1.8M127.06,214.50v-1.8M134.10,214.50v-1.8M140.21,214.50v-1.8M145.59,214.50v-1.8M150.40,214.50v-3.2M182.07,214.50v-1.8M200.59,214.50v-1.8M213.74,214.50v-1.8M223.93,214.50v-1.8M232.26,214.50v-1.8M232.50,210.30h1.8M232.50,207.29h1.8M232.50,204.95h1.8M232.50,203.05h1.8M232.50,201.43h1.8M232.50,200.04h1.8M232.50,198.80h1.8M232.50,197.70h3.2M232.50,190.45h1.8M232.50,186.20h1.8M232.50,183.19h1.8M232.50,180.85h1.8M232.50,178.95h1.8M232.50,177.33h1.8M232.50,175.94h1.8M232.50,174.70h1.8M232.50,173.60h3.2M232.50,166.35h1.8M232.50,162.10h1.8M232.50,159.09h1.8M232.50,156.75h1.8M232.50,154.85h1.8M232.50,153.23h1.8M232.50,151.84h1.8M232.50,150.60h1.8M232.50,149.50h3.2M232.50,142.25h1.8M232.50,138.00h1.8M232.50,134.99h1.8M232.50,132.65h1.8M232.50,130.75h1.8M232.50,129.13h1.8M232.50,127.74h1.8M232.50,126.50h1.8M232.50,125.40h3.2M232.50,118.15h1.8M236.39,214.50v-1.8M241.20,214.50v-3.2M272.87,214.50v-1.8M291.39,214.50v-1.8M304.54,214.50v-1.8M314.73,214.50v-1.8M323.06,214.50v-1.8M330.10,214.50v-1.8M336.21,214.50v-1.8M341.59,214.50v-1.8M346.40,214.50v-3.2M378.07,214.50v-1.8M396.59,214.50v-1.8M409.74,214.50v-1.8M419.93,214.50v-1.8M428.26,214.50v-1.8M428.50,210.30h1.8M428.50,207.29h1.8M428.50,204.95h1.8M428.50,203.05h1.8M428.50,201.43h1.8M428.50,200.04h1.8M428.50,198.80h1.8M428.50,197.70h3.2M428.50,190.45h1.8M428.50,186.20h1.8M428.50,183.19h1.8M428.50,180.85h1.8M428.50,178.95h1.8M428.50,177.33h1.8M428.50,175.94h1.8M428.50,174.70h1.8M428.50,173.60h3.2M428.50,166.35h1.8M428.50,162.10h1.8M428.50,159.09h1.8M428.50,156.75h1.8M428.50,154.85h1.8M428.50,153.23h1.8M428.50,151.84h1.8M428.50,150.60h1.8M428.50,149.50h3.2M428.50,142.25h1.8M428.50,138.00h1.8M428.50,134.99h1.8M428.50,132.65h1.8M428.50,130.75h1.8M428.50,129.13h1.8M428.50,127.74h1.8M428.50,126.50h1.8M428.50,125.40h3.2M428.50,118.15h1.8M432.39,214.50v-1.8M437.20,214.50v-3.2M468.87,214.50v-1.8M487.39,214.50v-1.8M500.54,214.50v-1.8M510.73,214.50v-1.8M519.06,214.50v-1.8M526.10,214.50v-1.8M532.21,214.50v-1.8M537.59,214.50v-1.8M542.40,214.50v-3.2M574.07,214.50v-1.8M592.59,214.50v-1.8M605.74,214.50v-1.8M615.93,214.50v-1.8M624.26,214.50v-1.8M36.50,309.37h1.8M36.50,306.36h1.8M36.50,304.02h1.8M36.50,302.12h1.8M36.50,300.50h1.8M36.50,299.11h1.8M36.50,297.87h1.8M36.50,296.77h3.2M36.50,289.52h1.8M36.50,285.27h1.8M36.50,282.26h1.8M36.50,279.92h1.8M36.50,278.02h1.8M36.50,276.40h1.8M36.50,275.01h1.8M36.50,273.77h1.8M36.50,272.67h3.2M36.50,265.42h1.8M36.50,261.17h1.8M36.50,258.16h1.8M36.50,255.82h1.8M36.50,253.92h1.8M36.50,252.30h1.8M36.50,250.91h1.8M36.50,249.67h1.8M36.50,248.57h3.2M36.50,241.32h1.8M36.50,237.07h1.8M36.50,234.06h1.8M36.50,231.72h1.8M36.50,229.82h1.8M36.50,228.20h1.8M36.50,226.81h1.8M36.50,225.57h1.8M36.50,224.47h3.2M36.50,217.22h1.8M40.39,312.00v-1.8M45.20,312.00v-3.2M76.87,312.00v-1.8M95.39,312.00v-1.8M108.54,312.00v-1.8M118.73,312.00v-1.8M127.06,312.00v-1.8M134.10,312.00v-1.8M140.21,312.00v-1.8M145.59,312.00v-1.8M150.40,312.00v-3.2M182.07,312.00v-1.8M200.59,312.00v-1.8M213.74,312.00v-1.8M223.93,312.00v-1.8M232.26,312.00v-1.8M232.50,309.37h1.8M232.50,306.36h1.8M232.50,304.02h1.8M232.50,302.12h1.8M232.50,300.50h1.8M232.50,299.11h1.8M232.50,297.87h1.8M232.50,296.77h3.2M232.50,289.52h1.8M232.50,285.27h1.8M232.50,282.26h1.8M232.50,279.92h1.8M232.50,278.02h1.8M232.50,276.40h1.8M232.50,275.01h1.8M232.50,273.77h1.8M232.50,272.67h3.2M232.50,265.42h1.8M232.50,261.17h1.8M232.50,258.16h1.8M232.50,255.82h1.8M232.50,253.92h1.8M232.50,252.30h1.8M232.50,250.91h1.8M232.50,249.67h1.8M232.50,248.57h3.2M232.50,241.32h1.8M232.50,237.07h1.8M232.50,234.06h1.8M232.50,231.72h1.8M232.50,229.82h1.8M232.50,228.20h1.8M232.50,226.81h1.8M232.50,225.57h1.8M232.50,224.47h3.2M232.50,217.22h1.8M236.39,312.00v-1.8M241.20,312.00v-3.2M272.87,312.00v-1.8M291.39,312.00v-1.8M304.54,312.00v-1.8M314.73,312.00v-1.8M323.06,312.00v-1.8M330.10,312.00v-1.8M336.21,312.00v-1.8M341.59,312.00v-1.8M346.40,312.00v-3.2M378.07,312.00v-1.8M396.59,312.00v-1.8M409.74,312.00v-1.8M419.93,312.00v-1.8M428.26,312.00v-1.8M428.50,309.37h1.8M428.50,306.36h1.8M428.50,304.02h1.8M428.50,302.12h1.8M428.50,300.50h1.8M428.50,299.11h1.8M428.50,297.87h1.8M428.50,296.77h3.2M428.50,289.52h1.8M428.50,285.27h1.8M428.50,282.26h1.8M428.50,279.92h1.8M428.50,278.02h1.8M428.50,276.40h1.8M428.50,275.01h1.8M428.50,273.77h1.8M428.50,272.67h3.2M428.50,265.42h1.8M428.50,261.17h1.8M428.50,258.16h1.8M428.50,255.82h1.8M428.50,253.92h1.8M428.50,252.30h1.8M428.50,250.91h1.8M428.50,249.67h1.8M428.50,248.57h3.2M428.50,241.32h1.8M428.50,237.07h1.8M428.50,234.06h1.8M428.50,231.72h1.8M428.50,229.82h1.8M428.50,228.20h1.8M428.50,226.81h1.8M428.50,225.57h1.8M428.50,224.47h3.2M428.50,217.22h1.8M432.39,312.00v-1.8M437.20,312.00v-3.2M468.87,312.00v-1.8M487.39,312.00v-1.8M500.54,312.00v-1.8M510.73,312.00v-1.8M519.06,312.00v-1.8M526.10,312.00v-1.8M532.21,312.00v-1.8M537.59,312.00v-1.8M542.40,312.00v-3.2M574.07,312.00v-1.8M592.59,312.00v-1.8M605.74,312.00v-1.8M615.93,312.00v-1.8M624.26,312.00v-1.8M36.50,406.27h1.8M36.50,403.26h1.8M36.50,400.92h1.8M36.50,399.02h1.8M36.50,397.40h1.8M36.50,396.01h1.8M36.50,394.77h1.8M36.50,393.67h3.2M36.50,386.42h1.8M36.50,382.17h1.8M36.50,379.16h1.8M36.50,376.82h1.8M36.50,374.92h1.8M36.50,373.30h1.8M36.50,371.91h1.8M36.50,370.67h1.8M36.50,369.57h3.2M36.50,362.32h1.8M36.50,358.07h1.8M36.50,355.06h1.8M36.50,352.72h1.8M36.50,350.82h1.8M36.50,349.20h1.8M36.50,347.81h1.8M36.50,346.57h1.8M36.50,345.47h3.2M36.50,338.22h1.8M36.50,333.97h1.8M36.50,330.96h1.8M36.50,328.62h1.8M36.50,326.72h1.8M36.50,325.10h1.8M36.50,323.71h1.8M36.50,322.47h1.8M36.50,321.37h3.2M36.50,314.12h1.8M40.39,409.50v-1.8M45.20,409.50v-3.2M76.87,409.50v-1.8M95.39,409.50v-1.8M108.54,409.50v-1.8M118.73,409.50v-1.8M127.06,409.50v-1.8M134.10,409.50v-1.8M140.21,409.50v-1.8M145.59,409.50v-1.8M150.40,409.50v-3.2M182.07,409.50v-1.8M200.59,409.50v-1.8M213.74,409.50v-1.8M223.93,409.50v-1.8M232.26,409.50v-1.8M232.50,406.27h1.8M232.50,403.26h1.8M232.50,400.92h1.8M232.50,399.02h1.8M232.50,397.40h1.8M232.50,396.01h1.8M232.50,394.77h1.8M232.50,393.67h3.2M232.50,386.42h1.8M232.50,382.17h1.8M232.50,379.16h1.8M232.50,376.82h1.8M232.50,374.92h1.8M232.50,373.30h1.8M232.50,371.91h1.8M232.50,370.67h1.8M232.50,369.57h3.2M232.50,362.32h1.8M232.50,358.07h1.8M232.50,355.06h1.8M232.50,352.72h1.8M232.50,350.82h1.8M232.50,349.20h1.8M232.50,347.81h1.8M232.50,346.57h1.8M232.50,345.47h3.2M232.50,338.22h1.8M232.50,333.97h1.8M232.50,330.96h1.8M232.50,328.62h1.8M232.50,326.72h1.8M232.50,325.10h1.8M232.50,323.71h1.8M232.50,322.47h1.8M232.50,321.37h3.2M232.50,314.12h1.8M236.39,409.50v-1.8M241.20,409.50v-3.2M272.87,409.50v-1.8M291.39,409.50v-1.8M304.54,409.50v-1.8M314.73,409.50v-1.8M323.06,409.50v-1.8M330.10,409.50v-1.8M336.21,409.50v-1.8M341.59,409.50v-1.8M346.40,409.50v-3.2M378.07,409.50v-1.8M396.59,409.50v-1.8M409.74,409.50v-1.8M419.93,409.50v-1.8M428.26,409.50v-1.8M428.50,406.27h1.8M428.50,403.26h1.8M428.50,400.92h1.8M428.50,399.02h1.8M428.50,397.40h1.8M428.50,396.01h1.8M428.50,394.77h1.8M428.50,393.67h3.2M428.50,386.42h1.8M428.50,382.17h1.8M428.50,379.16h1.8M428.50,376.82h1.8M428.50,374.92h1.8M428.50,373.30h1.8M428.50,371.91h1.8M428.50,370.67h1.8M428.50,369.57h3.2M428.50,362.32h1.8M428.50,358.07h1.8M428.50,355.06h1.8M428.50,352.72h1.8M428.50,350.82h1.8M428.50,349.20h1.8M428.50,347.81h1.8M428.50,346.57h1.8M428.50,345.47h3.2M428.50,338.22h1.8M428.50,333.97h1.8M428.50,330.96h1.8M428.50,328.62h1.8M428.50,326.72h1.8M428.50,325.10h1.8M428.50,323.71h1.8M428.50,322.47h1.8M428.50,321.37h3.2M428.50,314.12h1.8M432.39,409.50v-1.8M437.20,409.50v-3.2M468.87,409.50v-1.8M487.39,409.50v-1.8M500.54,409.50v-1.8M510.73,409.50v-1.8M519.06,409.50v-1.8M526.10,409.50v-1.8M532.21,409.50v-1.8M537.59,409.50v-1.8M542.40,409.50v-3.2M574.07,409.50v-1.8M592.59,409.50v-1.8M605.74,409.50v-1.8M615.93,409.50v-1.8M624.26,409.50v-1.8M36.50,504.46h1.8M36.50,500.21h1.8M36.50,497.20h1.8M36.50,494.86h1.8M36.50,492.96h1.8M36.50,491.34h1.8M36.50,489.95h1.8M36.50,488.71h1.8M36.50,487.61h3.2M36.50,480.36h1.8M36.50,476.11h1.8M36.50,473.10h1.8M36.50,470.76h1.8M36.50,468.86h1.8M36.50,467.24h1.8M36.50,465.85h1.8M36.50,464.61h1.8M36.50,463.51h3.2M36.50,456.26h1.8M36.50,452.01h1.8M36.50,449.00h1.8M36.50,446.66h1.8M36.50,444.76h1.8M36.50,443.14h1.8M36.50,441.75h1.8M36.50,440.51h1.8M36.50,439.41h3.2M36.50,432.16h1.8M36.50,427.91h1.8M36.50,424.90h1.8M36.50,422.56h1.8M36.50,420.66h1.8M36.50,419.04h1.8M36.50,417.65h1.8M36.50,416.41h1.8M36.50,415.31h3.2M40.39,507.00v-1.8M45.20,507.00v-3.2M76.87,507.00v-1.8M95.39,507.00v-1.8M108.54,507.00v-1.8M118.73,507.00v-1.8M127.06,507.00v-1.8M134.10,507.00v-1.8M140.21,507.00v-1.8M145.59,507.00v-1.8M150.40,507.00v-3.2M182.07,507.00v-1.8M200.59,507.00v-1.8M213.74,507.00v-1.8M223.93,507.00v-1.8M232.26,507.00v-1.8M232.50,504.46h1.8M232.50,500.21h1.8M232.50,497.20h1.8M232.50,494.86h1.8M232.50,492.96h1.8M232.50,491.34h1.8M232.50,489.95h1.8M232.50,488.71h1.8M232.50,487.61h3.2M232.50,480.36h1.8M232.50,476.11h1.8M232.50,473.10h1.8M232.50,470.76h1.8M232.50,468.86h1.8M232.50,467.24h1.8M232.50,465.85h1.8M232.50,464.61h1.8M232.50,463.51h3.2M232.50,456.26h1.8M232.50,452.01h1.8M232.50,449.00h1.8M232.50,446.66h1.8M232.50,444.76h1.8M232.50,443.14h1.8M232.50,441.75h1.8M232.50,440.51h1.8M232.50,439.41h3.2M232.50,432.16h1.8M232.50,427.91h1.8M232.50,424.90h1.8M232.50,422.56h1.8M232.50,420.66h1.8M232.50,419.04h1.8M232.50,417.65h1.8M232.50,416.41h1.8M232.50,415.31h3.2M236.39,507.00v-1.8M241.20,507.00v-3.2M272.87,507.00v-1.8M291.39,507.00v-1.8M304.54,507.00v-1.8M314.73,507.00v-1.8M323.06,507.00v-1.8M330.10,507.00v-1.8M336.21,507.00v-1.8M341.59,507.00v-1.8M346.40,507.00v-3.2M378.07,507.00v-1.8M396.59,507.00v-1.8M409.74,507.00v-1.8M419.93,507.00v-1.8M428.26,507.00v-1.8M428.50,504.46h1.8M428.50,500.21h1.8M428.50,497.20h1.8M428.50,494.86h1.8M428.50,492.96h1.8M428.50,491.34h1.8M428.50,489.95h1.8M428.50,488.71h1.8M428.50,487.61h3.2M428.50,480.36h1.8M428.50,476.11h1.8M428.50,473.10h1.8M428.50,470.76h1.8M428.50,468.86h1.8M428.50,467.24h1.8M428.50,465.85h1.8M428.50,464.61h1.8M428.50,463.51h3.2M428.50,456.26h1.8M428.50,452.01h1.8M428.50,449.00h1.8M428.50,446.66h1.8M428.50,444.76h1.8M428.50,443.14h1.8M428.50,441.75h1.8M428.50,440.51h1.8M428.50,439.41h3.2M428.50,432.16h1.8M428.50,427.91h1.8M428.50,424.90h1.8M428.50,422.56h1.8M428.50,420.66h1.8M428.50,419.04h1.8M428.50,417.65h1.8M428.50,416.41h1.8M428.50,415.31h3.2M432.39,507.00v-1.8M437.20,507.00v-3.2M468.87,507.00v-1.8M487.39,507.00v-1.8M500.54,507.00v-1.8M510.73,507.00v-1.8M519.06,507.00v-1.8M526.10,507.00v-1.8M532.21,507.00v-1.8M537.59,507.00v-1.8M542.40,507.00v-3.2M574.07,507.00v-1.8M592.59,507.00v-1.8M605.74,507.00v-1.8M615.93,507.00v-1.8M624.26,507.00v-1.8M36.50,601.23h1.8M36.50,596.98h1.8M36.50,593.97h1.8M36.50,591.63h1.8M36.50,589.73h1.8M36.50,588.11h1.8M36.50,586.72h1.8M36.50,585.48h1.8M36.50,584.38h3.2M36.50,577.13h1.8M36.50,572.88h1.8M36.50,569.87h1.8M36.50,567.53h1.8M36.50,565.63h1.8M36.50,564.01h1.8M36.50,562.62h1.8M36.50,561.38h1.8M36.50,560.28h3.2M36.50,553.03h1.8M36.50,548.78h1.8M36.50,545.77h1.8M36.50,543.43h1.8M36.50,541.53h1.8M36.50,539.91h1.8M36.50,538.52h1.8M36.50,537.28h1.8M36.50,536.18h3.2M36.50,528.93h1.8M36.50,524.68h1.8M36.50,521.67h1.8M36.50,519.33h1.8M36.50,517.43h1.8M36.50,515.81h1.8M36.50,514.42h1.8M36.50,513.18h1.8M36.50,512.08h3.2M40.39,604.50v-1.8M45.20,604.50v-3.2M76.87,604.50v-1.8M95.39,604.50v-1.8M108.54,604.50v-1.8M118.73,604.50v-1.8M127.06,604.50v-1.8M134.10,604.50v-1.8M140.21,604.50v-1.8M145.59,604.50v-1.8M150.40,604.50v-3.2M182.07,604.50v-1.8M200.59,604.50v-1.8M213.74,604.50v-1.8M223.93,604.50v-1.8M232.26,604.50v-1.8M232.50,601.23h1.8M232.50,596.98h1.8M232.50,593.97h1.8M232.50,591.63h1.8M232.50,589.73h1.8M232.50,588.11h1.8M232.50,586.72h1.8M232.50,585.48h1.8M232.50,584.38h3.2M232.50,577.13h1.8M232.50,572.88h1.8M232.50,569.87h1.8M232.50,567.53h1.8M232.50,565.63h1.8M232.50,564.01h1.8M232.50,562.62h1.8M232.50,561.38h1.8M232.50,560.28h3.2M232.50,553.03h1.8M232.50,548.78h1.8M232.50,545.77h1.8M232.50,543.43h1.8M232.50,541.53h1.8M232.50,539.91h1.8M232.50,538.52h1.8M232.50,537.28h1.8M232.50,536.18h3.2M232.50,528.93h1.8M232.50,524.68h1.8M232.50,521.67h1.8M232.50,519.33h1.8M232.50,517.43h1.8M232.50,515.81h1.8M232.50,514.42h1.8M232.50,513.18h1.8M232.50,512.08h3.2M236.39,604.50v-1.8M241.20,604.50v-3.2M272.87,604.50v-1.8M291.39,604.50v-1.8M304.54,604.50v-1.8M314.73,604.50v-1.8M323.06,604.50v-1.8M330.10,604.50v-1.8M336.21,604.50v-1.8M341.59,604.50v-1.8M346.40,604.50v-3.2M378.07,604.50v-1.8M396.59,604.50v-1.8M409.74,604.50v-1.8M419.93,604.50v-1.8M428.26,604.50v-1.8M428.50,601.23h1.8M428.50,596.98h1.8M428.50,593.97h1.8M428.50,591.63h1.8M428.50,589.73h1.8M428.50,588.11h1.8M428.50,586.72h1.8M428.50,585.48h1.8M428.50,584.38h3.2M428.50,577.13h1.8M428.50,572.88h1.8M428.50,569.87h1.8M428.50,567.53h1.8M428.50,565.63h1.8M428.50,564.01h1.8M428.50,562.62h1.8M428.50,561.38h1.8M428.50,560.28h3.2M428.50,553.03h1.8M428.50,548.78h1.8M428.50,545.77h1.8M428.50,543.43h1.8M428.50,541.53h1.8M428.50,539.91h1.8M428.50,538.52h1.8M428.50,537.28h1.8M428.50,536.18h3.2M428.50,528.93h1.8M428.50,524.68h1.8M428.50,521.67h1.8M428.50,519.33h1.8M428.50,517.43h1.8M428.50,515.81h1.8M428.50,514.42h1.8M428.50,513.18h1.8M428.50,512.08h3.2M432.39,604.50v-1.8M437.20,604.50v-3.2M468.87,604.50v-1.8M487.39,604.50v-1.8M500.54,604.50v-1.8M510.73,604.50v-1.8M519.06,604.50v-1.8M526.10,604.50v-1.8M532.21,604.50v-1.8M537.59,604.50v-1.8M542.40,604.50v-3.2M574.07,604.50v-1.8M592.59,604.50v-1.8M605.74,604.50v-1.8M615.93,604.50v-1.8M624.26,604.50v-1.8M36.50,699.55h1.8M36.50,695.30h1.8M36.50,692.29h1.8M36.50,689.95h1.8M36.50,688.05h1.8M36.50,686.43h1.8M36.50,685.04h1.8M36.50,683.80h1.8M36.50,682.70h3.2M36.50,675.45h1.8M36.50,671.20h1.8M36.50,668.19h1.8M36.50,665.85h1.8M36.50,663.95h1.8M36.50,662.33h1.8M36.50,660.94h1.8M36.50,659.70h1.8M36.50,658.60h3.2M36.50,651.35h1.8M36.50,647.10h1.8M36.50,644.09h1.8M36.50,641.75h1.8M36.50,639.85h1.8M36.50,638.23h1.8M36.50,636.84h1.8M36.50,635.60h1.8M36.50,634.50h3.2M36.50,627.25h1.8M36.50,623.00h1.8M36.50,619.99h1.8M36.50,617.65h1.8M36.50,615.75h1.8M36.50,614.13h1.8M36.50,612.74h1.8M36.50,611.50h1.8M36.50,610.40h3.2M40.39,702.00v-1.8M45.20,702.00v-3.2M76.87,702.00v-1.8M95.39,702.00v-1.8M108.54,702.00v-1.8M118.73,702.00v-1.8M127.06,702.00v-1.8M134.10,702.00v-1.8M140.21,702.00v-1.8M145.59,702.00v-1.8M150.40,702.00v-3.2M182.07,702.00v-1.8M200.59,702.00v-1.8M213.74,702.00v-1.8M223.93,702.00v-1.8M232.26,702.00v-1.8M232.50,699.55h1.8M232.50,695.30h1.8M232.50,692.29h1.8M232.50,689.95h1.8M232.50,688.05h1.8M232.50,686.43h1.8M232.50,685.04h1.8M232.50,683.80h1.8M232.50,682.70h3.2M232.50,675.45h1.8M232.50,671.20h1.8M232.50,668.19h1.8M232.50,665.85h1.8M232.50,663.95h1.8M232.50,662.33h1.8M232.50,660.94h1.8M232.50,659.70h1.8M232.50,658.60h3.2M232.50,651.35h1.8M232.50,647.10h1.8M232.50,644.09h1.8M232.50,641.75h1.8M232.50,639.85h1.8M232.50,638.23h1.8M232.50,636.84h1.8M232.50,635.60h1.8M232.50,634.50h3.2M232.50,627.25h1.8M232.50,623.00h1.8M232.50,619.99h1.8M232.50,617.65h1.8M232.50,615.75h1.8M232.50,614.13h1.8M232.50,612.74h1.8M232.50,611.50h1.8M232.50,610.40h3.2M236.39,702.00v-1.8M241.20,702.00v-3.2M272.87,702.00v-1.8M291.39,702.00v-1.8M304.54,702.00v-1.8M314.73,702.00v-1.8M323.06,702.00v-1.8M330.10,702.00v-1.8M336.21,702.00v-1.8M341.59,702.00v-1.8M346.40,702.00v-3.2M378.07,702.00v-1.8M396.59,702.00v-1.8M409.74,702.00v-1.8M419.93,702.00v-1.8M428.26,702.00v-1.8M428.50,699.55h1.8M428.50,695.30h1.8M428.50,692.29h1.8M428.50,689.95h1.8M428.50,688.05h1.8M428.50,686.43h1.8M428.50,685.04h1.8M428.50,683.80h1.8M428.50,682.70h3.2M428.50,675.45h1.8M428.50,671.20h1.8M428.50,668.19h1.8M428.50,665.85h1.8M428.50,663.95h1.8M428.50,662.33h1.8M428.50,660.94h1.8M428.50,659.70h1.8M428.50,658.60h3.2M428.50,651.35h1.8M428.50,647.10h1.8M428.50,644.09h1.8M428.50,641.75h1.8M428.50,639.85h1.8M428.50,638.23h1.8M428.50,636.84h1.8M428.50,635.60h1.8M428.50,634.50h3.2M428.50,627.25h1.8M428.50,623.00h1.8M428.50,619.99h1.8M428.50,617.65h1.8M428.50,615.75h1.8M428.50,614.13h1.8M428.50,612.74h1.8M428.50,611.50h1.8M428.50,610.40h3.2M432.39,702.00v-1.8M437.20,702.00v-3.2M468.87,702.00v-1.8M487.39,702.00v-1.8M500.54,702.00v-1.8M510.73,702.00v-1.8M519.06,702.00v-1.8M526.10,702.00v-1.8M532.21,702.00v-1.8M537.59,702.00v-1.8M542.40,702.00v-3.2M574.07,702.00v-1.8M592.59,702.00v-1.8M605.74,702.00v-1.8M615.93,702.00v-1.8M624.26,702.00v-1.8M36.50,796.44h1.8M36.50,792.19h1.8M36.50,789.18h1.8M36.50,786.84h1.8M36.50,784.94h1.8M36.50,783.32h1.8M36.50,781.93h1.8M36.50,780.69h1.8M36.50,779.59h3.2M36.50,772.34h1.8M36.50,768.09h1.8M36.50,765.08h1.8M36.50,762.74h1.8M36.50,760.84h1.8M36.50,759.22h1.8M36.50,757.83h1.8M36.50,756.59h1.8M36.50,755.49h3.2M36.50,748.24h1.8M36.50,743.99h1.8M36.50,740.98h1.8M36.50,738.64h1.8M36.50,736.74h1.8M36.50,735.12h1.8M36.50,733.73h1.8M36.50,732.49h1.8M36.50,731.39h3.2M36.50,724.14h1.8M36.50,719.89h1.8M36.50,716.88h1.8M36.50,714.54h1.8M36.50,712.64h1.8M36.50,711.02h1.8M36.50,709.63h1.8M36.50,708.39h1.8M36.50,707.29h3.2M40.39,799.50v-1.8M45.20,799.50v-3.2M76.87,799.50v-1.8M95.39,799.50v-1.8M108.54,799.50v-1.8M118.73,799.50v-1.8M127.06,799.50v-1.8M134.10,799.50v-1.8M140.21,799.50v-1.8M145.59,799.50v-1.8M150.40,799.50v-3.2M182.07,799.50v-1.8M200.59,799.50v-1.8M213.74,799.50v-1.8M223.93,799.50v-1.8M232.26,799.50v-1.8M232.50,796.44h1.8M232.50,792.19h1.8M232.50,789.18h1.8M232.50,786.84h1.8M232.50,784.94h1.8M232.50,783.32h1.8M232.50,781.93h1.8M232.50,780.69h1.8M232.50,779.59h3.2M232.50,772.34h1.8M232.50,768.09h1.8M232.50,765.08h1.8M232.50,762.74h1.8M232.50,760.84h1.8M232.50,759.22h1.8M232.50,757.83h1.8M232.50,756.59h1.8M232.50,755.49h3.2M232.50,748.24h1.8M232.50,743.99h1.8M232.50,740.98h1.8M232.50,738.64h1.8M232.50,736.74h1.8M232.50,735.12h1.8M232.50,733.73h1.8M232.50,732.49h1.8M232.50,731.39h3.2M232.50,724.14h1.8M232.50,719.89h1.8M232.50,716.88h1.8M232.50,714.54h1.8M232.50,712.64h1.8M232.50,711.02h1.8M232.50,709.63h1.8M232.50,708.39h1.8M232.50,707.29h3.2M236.39,799.50v-1.8M241.20,799.50v-3.2M272.87,799.50v-1.8M291.39,799.50v-1.8M304.54,799.50v-1.8M314.73,799.50v-1.8M323.06,799.50v-1.8M330.10,799.50v-1.8M336.21,799.50v-1.8M341.59,799.50v-1.8M346.40,799.50v-3.2M378.07,799.50v-1.8M396.59,799.50v-1.8M409.74,799.50v-1.8M419.93,799.50v-1.8M428.26,799.50v-1.8M428.50,796.44h1.8M428.50,792.19h1.8M428.50,789.18h1.8M428.50,786.84h1.8M428.50,784.94h1.8M428.50,783.32h1.8M428.50,781.93h1.8M428.50,780.69h1.8M428.50,779.59h3.2M428.50,772.34h1.8M428.50,768.09h1.8M428.50,765.08h1.8M428.50,762.74h1.8M428.50,760.84h1.8M428.50,759.22h1.8M428.50,757.83h1.8M428.50,756.59h1.8M428.50,755.49h3.2M428.50,748.24h1.8M428.50,743.99h1.8M428.50,740.98h1.8M428.50,738.64h1.8M428.50,736.74h1.8M428.50,735.12h1.8M428.50,733.73h1.8M428.50,732.49h1.8M428.50,731.39h3.2M428.50,724.14h1.8M428.50,719.89h1.8M428.50,716.88h1.8M428.50,714.54h1.8M428.50,712.64h1.8M428.50,711.02h1.8M428.50,709.63h1.8M428.50,708.39h1.8M428.50,707.29h3.2M432.39,799.50v-1.8M437.20,799.50v-3.2M468.87,799.50v-1.8M487.39,799.50v-1.8M500.54,799.50v-1.8M510.73,799.50v-1.8M519.06,799.50v-1.8M526.10,799.50v-1.8M532.21,799.50v-1.8M537.59,799.50v-1.8M542.40,799.50v-3.2M574.07,799.50v-1.8M592.59,799.50v-1.8M605.74,799.50v-1.8M615.93,799.50v-1.8M624.26,799.50v-1.8M36.50,894.97h1.8M36.50,890.72h1.8M36.50,887.71h1.8M36.50,885.37h1.8M36.50,883.47h1.8M36.50,881.85h1.8M36.50,880.46h1.8M36.50,879.22h1.8M36.50,878.12h3.2M36.50,870.87h1.8M36.50,866.62h1.8M36.50,863.61h1.8M36.50,861.27h1.8M36.50,859.37h1.8M36.50,857.75h1.8M36.50,856.36h1.8M36.50,855.12h1.8M36.50,854.02h3.2M36.50,846.77h1.8M36.50,842.52h1.8M36.50,839.51h1.8M36.50,837.17h1.8M36.50,835.27h1.8M36.50,833.65h1.8M36.50,832.26h1.8M36.50,831.02h1.8M36.50,829.92h3.2M36.50,822.67h1.8M36.50,818.42h1.8M36.50,815.41h1.8M36.50,813.07h1.8M36.50,811.17h1.8M36.50,809.55h1.8M36.50,808.16h1.8M36.50,806.92h1.8M36.50,805.82h3.2M40.39,897.00v-1.8M45.20,897.00v-3.2M76.87,897.00v-1.8M95.39,897.00v-1.8M108.54,897.00v-1.8M118.73,897.00v-1.8M127.06,897.00v-1.8M134.10,897.00v-1.8M140.21,897.00v-1.8M145.59,897.00v-1.8M150.40,897.00v-3.2M182.07,897.00v-1.8M200.59,897.00v-1.8M213.74,897.00v-1.8M223.93,897.00v-1.8M232.26,897.00v-1.8M232.50,894.97h1.8M232.50,890.72h1.8M232.50,887.71h1.8M232.50,885.37h1.8M232.50,883.47h1.8M232.50,881.85h1.8M232.50,880.46h1.8M232.50,879.22h1.8M232.50,878.12h3.2M232.50,870.87h1.8M232.50,866.62h1.8M232.50,863.61h1.8M232.50,861.27h1.8M232.50,859.37h1.8M232.50,857.75h1.8M232.50,856.36h1.8M232.50,855.12h1.8M232.50,854.02h3.2M232.50,846.77h1.8M232.50,842.52h1.8M232.50,839.51h1.8M232.50,837.17h1.8M232.50,835.27h1.8M232.50,833.65h1.8M232.50,832.26h1.8M232.50,831.02h1.8M232.50,829.92h3.2M232.50,822.67h1.8M232.50,818.42h1.8M232.50,815.41h1.8M232.50,813.07h1.8M232.50,811.17h1.8M232.50,809.55h1.8M232.50,808.16h1.8M232.50,806.92h1.8M232.50,805.82h3.2M236.39,897.00v-1.8M241.20,897.00v-3.2M272.87,897.00v-1.8M291.39,897.00v-1.8M304.54,897.00v-1.8M314.73,897.00v-1.8M323.06,897.00v-1.8M330.10,897.00v-1.8M336.21,897.00v-1.8M341.59,897.00v-1.8M346.40,897.00v-3.2M378.07,897.00v-1.8M396.59,897.00v-1.8M409.74,897.00v-1.8M419.93,897.00v-1.8M428.26,897.00v-1.8M428.50,894.97h1.8M428.50,890.72h1.8M428.50,887.71h1.8M428.50,885.37h1.8M428.50,883.47h1.8M428.50,881.85h1.8M428.50,880.46h1.8M428.50,879.22h1.8M428.50,878.12h3.2M428.50,870.87h1.8M428.50,866.62h1.8M428.50,863.61h1.8M428.50,861.27h1.8M428.50,859.37h1.8M428.50,857.75h1.8M428.50,856.36h1.8M428.50,855.12h1.8M428.50,854.02h3.2M428.50,846.77h1.8M428.50,842.52h1.8M428.50,839.51h1.8M428.50,837.17h1.8M428.50,835.27h1.8M428.50,833.65h1.8M428.50,832.26h1.8M428.50,831.02h1.8M428.50,829.92h3.2M428.50,822.67h1.8M428.50,818.42h1.8M428.50,815.41h1.8M428.50,813.07h1.8M428.50,811.17h1.8M428.50,809.55h1.8M428.50,808.16h1.8M428.50,806.92h1.8M428.50,805.82h3.2M432.39,897.00v-1.8M437.20,897.00v-3.2M468.87,897.00v-1.8M487.39,897.00v-1.8M500.54,897.00v-1.8M510.73,897.00v-1.8M519.06,897.00v-1.8M526.10,897.00v-1.8M532.21,897.00v-1.8M537.59,897.00v-1.8M542.40,897.00v-3.2M574.07,897.00v-1.8M592.59,897.00v-1.8M605.74,897.00v-1.8M615.93,897.00v-1.8M624.26,897.00v-1.8M36.50,990.35h1.8M36.50,987.34h1.8M36.50,985.00h1.8M36.50,983.10h1.8M36.50,981.48h1.8M36.50,980.09h1.8M36.50,978.85h1.8M36.50,977.75h3.2M36.50,970.50h1.8M36.50,966.25h1.8M36.50,963.24h1.8M36.50,960.90h1.8M36.50,959.00h1.8M36.50,957.38h1.8M36.50,955.99h1.8M36.50,954.75h1.8M36.50,953.65h3.2M36.50,946.40h1.8M36.50,942.15h1.8M36.50,939.14h1.8M36.50,936.80h1.8M36.50,934.90h1.8M36.50,933.28h1.8M36.50,931.89h1.8M36.50,930.65h1.8M36.50,929.55h3.2M36.50,922.30h1.8M36.50,918.05h1.8M36.50,915.04h1.8M36.50,912.70h1.8M36.50,910.80h1.8M36.50,909.18h1.8M36.50,907.79h1.8M36.50,906.55h1.8M36.50,905.45h3.2M36.50,898.20h1.8M40.39,994.50v-1.8M45.20,994.50v-3.2M76.87,994.50v-1.8M95.39,994.50v-1.8M108.54,994.50v-1.8M118.73,994.50v-1.8M127.06,994.50v-1.8M134.10,994.50v-1.8M140.21,994.50v-1.8M145.59,994.50v-1.8M150.40,994.50v-3.2M182.07,994.50v-1.8M200.59,994.50v-1.8M213.74,994.50v-1.8M223.93,994.50v-1.8M232.26,994.50v-1.8M232.50,990.35h1.8M232.50,987.34h1.8M232.50,985.00h1.8M232.50,983.10h1.8M232.50,981.48h1.8M232.50,980.09h1.8M232.50,978.85h1.8M232.50,977.75h3.2M232.50,970.50h1.8M232.50,966.25h1.8M232.50,963.24h1.8M232.50,960.90h1.8M232.50,959.00h1.8M232.50,957.38h1.8M232.50,955.99h1.8M232.50,954.75h1.8M232.50,953.65h3.2M232.50,946.40h1.8M232.50,942.15h1.8M232.50,939.14h1.8M232.50,936.80h1.8M232.50,934.90h1.8M232.50,933.28h1.8M232.50,931.89h1.8M232.50,930.65h1.8M232.50,929.55h3.2M232.50,922.30h1.8M232.50,918.05h1.8M232.50,915.04h1.8M232.50,912.70h1.8M232.50,910.80h1.8M232.50,909.18h1.8M232.50,907.79h1.8M232.50,906.55h1.8M232.50,905.45h3.2M232.50,898.20h1.8M236.39,994.50v-1.8M241.20,994.50v-3.2M272.87,994.50v-1.8M291.39,994.50v-1.8M304.54,994.50v-1.8M314.73,994.50v-1.8M323.06,994.50v-1.8M330.10,994.50v-1.8M336.21,994.50v-1.8M341.59,994.50v-1.8M346.40,994.50v-3.2M378.07,994.50v-1.8M396.59,994.50v-1.8M409.74,994.50v-1.8M419.93,994.50v-1.8M428.26,994.50v-1.8M428.50,990.35h1.8M428.50,987.34h1.8M428.50,985.00h1.8M428.50,983.10h1.8M428.50,981.48h1.8M428.50,980.09h1.8M428.50,978.85h1.8M428.50,977.75h3.2M428.50,970.50h1.8M428.50,966.25h1.8M428.50,963.24h1.8M428.50,960.90h1.8M428.50,959.00h1.8M428.50,957.38h1.8M428.50,955.99h1.8M428.50,954.75h1.8M428.50,953.65h3.2M428.50,946.40h1.8M428.50,942.15h1.8M428.50,939.14h1.8M428.50,936.80h1.8M428.50,934.90h1.8M428.50,933.28h1.8M428.50,931.89h1.8M428.50,930.65h1.8M428.50,929.55h3.2M428.50,922.30h1.8M428.50,918.05h1.8M428.50,915.04h1.8M428.50,912.70h1.8M428.50,910.80h1.8M428.50,909.18h1.8M428.50,907.79h1.8M428.50,906.55h1.8M428.50,905.45h3.2M428.50,898.20h1.8M432.39,994.50v-1.8M437.20,994.50v-3.2M468.87,994.50v-1.8M487.39,994.50v-1.8M500.54,994.50v-1.8M510.73,994.50v-1.8M519.06,994.50v-1.8M526.10,994.50v-1.8M532.21,994.50v-1.8M537.59,994.50v-1.8M542.40,994.50v-3.2M574.07,994.50v-1.8M592.59,994.50v-1.8M605.74,994.50v-1.8M615.93,994.50v-1.8M624.26,994.50v-1.8" stroke="#000" stroke-width="0.8" fill="none"/>
<path d="M36.50,19.50h588.00M36.50,117.00h588.00M36.50,214.50h588.00M36.50,312.00h588.00M36.50,409.50h588.00M36.50,507.00h588.00M36.50,604.50h588.00M36.50,702.00h588.00M36.50,799.50h588.00M36.50,897.00h588.00M36.50,994.50h588.00M36.50,19.50v975.00M232.50,19.50v975.00M428.50,19.50v975.00M624.50,19.50v975.00" stroke="#000" stroke-width="0.85" fill="none" stroke-linecap="square"/>
<g font-family="'DejaVu Sans', 'Liberation Sans', sans-serif" fill="#000" stroke="#000" stroke-width="0.2">
<text x="134.50" y="14.6" font-size="10.6" text-anchor="middle">t = 1.00e+04 yr</text>
<text x="134.50" y="1020.4" font-size="12.3" text-anchor="middle">Heliocentric distance [au]</text>
<text transform="translate(37.50,1005.40) scale(1.1,1)" font-size="8.3">10</text>
<text transform="translate(49.12,1002.30) scale(0.9,1)" font-size="6.6">0</text>
<text transform="translate(142.70,1005.40) scale(1.1,1)" font-size="8.3">10</text>
<text transform="translate(154.32,1002.30) scale(0.9,1)" font-size="6.6">1</text>
<text x="330.50" y="14.6" font-size="10.6" text-anchor="middle">t = 1.00e+05 yr</text>
<text x="330.50" y="1020.4" font-size="12.3" text-anchor="middle">Heliocentric distance [au]</text>
<text transform="translate(233.50,1005.40) scale(1.1,1)" font-size="8.3">10</text>
<text transform="translate(245.12,1002.30) scale(0.9,1)" font-size="6.6">0</text>
<text transform="translate(338.70,1005.40) scale(1.1,1)" font-size="8.3">10</text>
<text transform="translate(350.32,1002.30) scale(0.9,1)" font-size="6.6">1</text>
<text x="526.50" y="14.6" font-size="10.6" text-anchor="middle">t = 1.00e+06 yr</text>
<text x="526.50" y="1020.4" font-size="12.3" text-anchor="middle">Heliocentric distance [au]</text>
<text transform="translate(429.50,1005.40) scale(1.1,1)" font-size="8.3">10</text>
<text transform="translate(441.12,1002.30) scale(0.9,1)" font-size="6.6">0</text>
<text transform="translate(534.70,1005.40) scale(1.1,1)" font-size="8.3">10</text>
<text transform="translate(546.32,1002.30) scale(0.9,1)" font-size="6.6">1</text>
<text transform="translate(55.5,108.10) scale(0.975,1.0)" font-size="12.8">NH3</text>
<text transform="translate(6.6,66.45) scale(0.9,1)" font-size="13" font-style="italic" stroke-width="0.35">f</text>
<text transform="translate(17.20,32.65) scale(1.1,1)" font-size="8.3">10</text>
<text transform="translate(28.82,29.55) scale(0.9,1)" font-size="6.6">1</text>
<text transform="translate(17.20,56.75) scale(1.1,1)" font-size="8.3">10</text>
<text transform="translate(28.82,53.65) scale(0.9,1)" font-size="6.6">0</text>
<text transform="translate(12.23,80.85) scale(1.1,1)" font-size="8.3">10</text>
<text transform="translate(23.84,77.75) scale(0.9,1)" font-size="6.6">−1</text>
<text transform="translate(12.23,104.95) scale(1.1,1)" font-size="8.3">10</text>
<text transform="translate(23.84,101.85) scale(0.9,1)" font-size="6.6">−2</text>
<text transform="translate(55.5,205.60) scale(0.975,1.0)" font-size="12.8">H2S</text>
<text transform="translate(6.6,163.95) scale(0.9,1)" font-size="13" font-style="italic" stroke-width="0.35">f</text>
<text transform="translate(17.20,128.10) scale(1.1,1)" font-size="8.3">10</text>
<text transform="translate(28.82,125.00) scale(0.9,1)" font-size="6.6">1</text>
<text transform="translate(17.20,152.20) scale(1.1,1)" font-size="8.3">10</text>
<text transform="translate(28.82,149.10) scale(0.9,1)" font-size="6.6">0</text>
<text transform="translate(12.23,176.30) scale(1.1,1)" font-size="8.3">10</text>
<text transform="translate(23.84,173.20) scale(0.9,1)" font-size="6.6">−1</text>
<text transform="translate(12.23,200.40) scale(1.1,1)" font-size="8.3">10</text>
<text transform="translate(23.84,197.30) scale(0.9,1)" font-size="6.6">−2</text>
<text transform="translate(55.5,303.10) scale(0.975,1.0)" font-size="12.8">CO2</text>
<text transform="translate(6.6,261.45) scale(0.9,1)" font-size="13" font-style="italic" stroke-width="0.35">f</text>
<text transform="translate(17.20,227.17) scale(1.1,1)" font-size="8.3">10</text>
<text transform="translate(28.82,224.07) scale(0.9,1)" font-size="6.6">1</text>
<text transform="translate(17.20,251.27) scale(1.1,1)" font-size="8.3">10</text>
<text transform="translate(28.82,248.17) scale(0.9,1)" font-size="6.6">0</text>
<text transform="translate(12.23,275.37) scale(1.1,1)" font-size="8.3">10</text>
<text transform="translate(23.84,272.27) scale(0.9,1)" font-size="6.6">−1</text>
<text transform="translate(12.23,299.47) scale(1.1,1)" font-size="8.3">10</text>
<text transform="translate(23.84,296.37) scale(0.9,1)" font-size="6.6">−2</text>
<text transform="translate(55.5,400.60) scale(0.975,1.0)" font-size="12.8">PH3</text>
<text transform="translate(6.6,358.95) scale(0.9,1)" font-size="13" font-style="italic" stroke-width="0.35">f</text>
<text transform="translate(17.20,324.07) scale(1.1,1)" font-size="8.3">10</text>
<text transform="translate(28.82,320.97) scale(0.9,1)" font-size="6.6">1</text>
<text transform="translate(17.20,348.17) scale(1.1,1)" font-size="8.3">10</text>
<text transform="translate(28.82,345.07) scale(0.9,1)" font-size="6.6">0</text>
<text transform="translate(12.23,372.27) scale(1.1,1)" font-size="8.3">10</text>
<text transform="translate(23.84,369.17) scale(0.9,1)" font-size="6.6">−1</text>
<text transform="translate(12.23,396.37) scale(1.1,1)" font-size="8.3">10</text>
<text transform="translate(23.84,393.27) scale(0.9,1)" font-size="6.6">−2</text>
<text transform="translate(55.5,498.10) scale(0.975,1.0)" font-size="12.8">CH4</text>
<text transform="translate(6.6,456.45) scale(0.9,1)" font-size="13" font-style="italic" stroke-width="0.35">f</text>
<text transform="translate(17.20,418.01) scale(1.1,1)" font-size="8.3">10</text>
<text transform="translate(28.82,414.91) scale(0.9,1)" font-size="6.6">1</text>
<text transform="translate(17.20,442.11) scale(1.1,1)" font-size="8.3">10</text>
<text transform="translate(28.82,439.01) scale(0.9,1)" font-size="6.6">0</text>
<text transform="translate(12.23,466.21) scale(1.1,1)" font-size="8.3">10</text>
<text transform="translate(23.84,463.11) scale(0.9,1)" font-size="6.6">−1</text>
<text transform="translate(12.23,490.31) scale(1.1,1)" font-size="8.3">10</text>
<text transform="translate(23.84,487.21) scale(0.9,1)" font-size="6.6">−2</text>
<text transform="translate(55.5,595.60) scale(0.975,1.0)" font-size="12.8">N2</text>
<text transform="translate(6.6,553.95) scale(0.9,1)" font-size="13" font-style="italic" stroke-width="0.35">f</text>
<text transform="translate(17.20,514.78) scale(1.1,1)" font-size="8.3">10</text>
<text transform="translate(28.82,511.68) scale(0.9,1)" font-size="6.6">1</text>
<text transform="translate(17.20,538.88) scale(1.1,1)" font-size="8.3">10</text>
<text transform="translate(28.82,535.78) scale(0.9,1)" font-size="6.6">0</text>
<text transform="translate(12.23,562.98) scale(1.1,1)" font-size="8.3">10</text>
<text transform="translate(23.84,559.88) scale(0.9,1)" font-size="6.6">−1</text>
<text transform="translate(12.23,587.08) scale(1.1,1)" font-size="8.3">10</text>
<text transform="translate(23.84,583.98) scale(0.9,1)" font-size="6.6">−2</text>
<text transform="translate(55.5,693.10) scale(0.975,1.0)" font-size="12.8">CO</text>
<text transform="translate(6.6,651.45) scale(0.9,1)" font-size="13" font-style="italic" stroke-width="0.35">f</text>
<text transform="translate(17.20,613.10) scale(1.1,1)" font-size="8.3">10</text>
<text transform="translate(28.82,610.00) scale(0.9,1)" font-size="6.6">1</text>
<text transform="translate(17.20,637.20) scale(1.1,1)" font-size="8.3">10</text>
<text transform="translate(28.82,634.10) scale(0.9,1)" font-size="6.6">0</text>
<text transform="translate(12.23,661.30) scale(1.1,1)" font-size="8.3">10</text>
<text transform="translate(23.84,658.20) scale(0.9,1)" font-size="6.6">−1</text>
<text transform="translate(12.23,685.40) scale(1.1,1)" font-size="8.3">10</text>
<text transform="translate(23.84,682.30) scale(0.9,1)" font-size="6.6">−2</text>
<text transform="translate(55.5,790.60) scale(0.975,1.0)" font-size="12.8">Ar</text>
<text transform="translate(6.6,748.95) scale(0.9,1)" font-size="13" font-style="italic" stroke-width="0.35">f</text>
<text transform="translate(17.20,709.99) scale(1.1,1)" font-size="8.3">10</text>
<text transform="translate(28.82,706.89) scale(0.9,1)" font-size="6.6">1</text>
<text transform="translate(17.20,734.09) scale(1.1,1)" font-size="8.3">10</text>
<text transform="translate(28.82,730.99) scale(0.9,1)" font-size="6.6">0</text>
<text transform="translate(12.23,758.19) scale(1.1,1)" font-size="8.3">10</text>
<text transform="translate(23.84,755.09) scale(0.9,1)" font-size="6.6">−1</text>
<text transform="translate(12.23,782.29) scale(1.1,1)" font-size="8.3">10</text>
<text transform="translate(23.84,779.19) scale(0.9,1)" font-size="6.6">−2</text>
<text transform="translate(55.5,888.10) scale(0.975,1.0)" font-size="12.8">Kr</text>
<text transform="translate(6.6,846.45) scale(0.9,1)" font-size="13" font-style="italic" stroke-width="0.35">f</text>
<text transform="translate(17.20,808.52) scale(1.1,1)" font-size="8.3">10</text>
<text transform="translate(28.82,805.42) scale(0.9,1)" font-size="6.6">1</text>
<text transform="translate(17.20,832.62) scale(1.1,1)" font-size="8.3">10</text>
<text transform="translate(28.82,829.52) scale(0.9,1)" font-size="6.6">0</text>
<text transform="translate(12.23,856.72) scale(1.1,1)" font-size="8.3">10</text>
<text transform="translate(23.84,853.62) scale(0.9,1)" font-size="6.6">−1</text>
<text transform="translate(12.23,880.82) scale(1.1,1)" font-size="8.3">10</text>
<text transform="translate(23.84,877.72) scale(0.9,1)" font-size="6.6">−2</text>
<text transform="translate(55.5,985.60) scale(0.975,1.0)" font-size="12.8">Xe</text>
<text transform="translate(6.6,943.95) scale(0.9,1)" font-size="13" font-style="italic" stroke-width="0.35">f</text>
<text transform="translate(17.20,908.15) scale(1.1,1)" font-size="8.3">10</text>
<text transform="translate(28.82,905.05) scale(0.9,1)" font-size="6.6">1</text>
<text transform="translate(17.20,932.25) scale(1.1,1)" font-size="8.3">10</text>
<text transform="translate(28.82,929.15) scale(0.9,1)" font-size="6.6">0</text>
<text transform="translate(12.23,956.35) scale(1.1,1)" font-size="8.3">10</text>
<text transform="translate(23.84,953.25) scale(0.9,1)" font-size="6.6">−1</text>
<text transform="translate(12.23,980.45) scale(1.1,1)" font-size="8.3">10</text>
<text transform="translate(23.84,977.35) scale(0.9,1)" font-size="6.6">−2</text>
</g>
</svg>
</body></html>
